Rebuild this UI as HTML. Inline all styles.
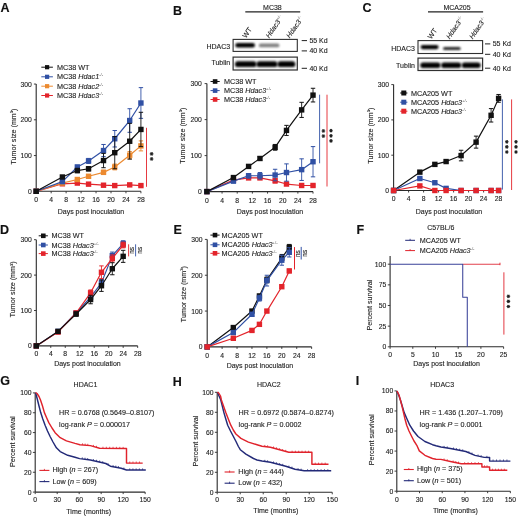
<!DOCTYPE html>
<html><head><meta charset="utf-8"><style>
html,body{margin:0;padding:0;background:#fff;}
svg{display:block;}
text{font-family:"Liberation Sans", sans-serif;stroke:#222;stroke-width:0.12px;}
svg{will-change:transform;}
</style></head><body>
<svg width="520" height="516" viewBox="0 0 520 516">
<defs><filter id="bl" x="-30%" y="-80%" width="160%" height="260%"><feGaussianBlur stdDeviation="1.15"/></filter></defs>
<rect width="520" height="516" fill="#fff"/>
<text x="0.40" y="11.50" font-size="12.5" text-anchor="start" font-weight="bold" font-style="normal" fill="#111" style="stroke:#111;stroke-width:0.15px">A</text>
<line x1="41.30" y1="67.20" x2="52.90" y2="67.20" stroke="#111111" stroke-width="1.0"/>
<rect x="45.00" y="65.10" width="4.20" height="4.20" fill="#111111"/>
<text x="56.90" y="69.70" font-size="7.25" text-anchor="start" font-weight="normal" font-style="normal" fill="#1e1e1e">MC38 WT</text>
<line x1="41.30" y1="76.80" x2="52.90" y2="76.80" stroke="#3050a4" stroke-width="1.0"/>
<rect x="45.00" y="74.70" width="4.20" height="4.20" fill="#3050a4"/>
<text x="56.90" y="79.30" font-size="7.25" text-anchor="start" font-weight="normal" font-style="normal" fill="#1e1e1e">MC38 <tspan font-style="italic">Hdac1</tspan><tspan font-size="4.2" dy="-2.9" fill="#555" style="stroke:none">-/-</tspan></text>
<line x1="41.30" y1="86.20" x2="52.90" y2="86.20" stroke="#ec8a30" stroke-width="1.0"/>
<rect x="45.00" y="84.10" width="4.20" height="4.20" fill="#ec8a30"/>
<text x="56.90" y="88.70" font-size="7.25" text-anchor="start" font-weight="normal" font-style="normal" fill="#1e1e1e">MC38 <tspan font-style="italic">Hdac2</tspan><tspan font-size="4.2" dy="-2.9" fill="#555" style="stroke:none">-/-</tspan></text>
<line x1="41.30" y1="95.50" x2="52.90" y2="95.50" stroke="#e3242b" stroke-width="1.0"/>
<rect x="45.00" y="93.40" width="4.20" height="4.20" fill="#e3242b"/>
<text x="56.90" y="98.00" font-size="7.25" text-anchor="start" font-weight="normal" font-style="normal" fill="#1e1e1e">MC38 <tspan font-style="italic">Hdac3</tspan><tspan font-size="4.2" dy="-2.9" fill="#555" style="stroke:none">-/-</tspan></text>
<line x1="36.20" y1="191.30" x2="36.20" y2="84.05" stroke="#2a2a2a" stroke-width="1.1"/>
<line x1="33.90" y1="191.30" x2="36.20" y2="191.30" stroke="#2a2a2a" stroke-width="0.9"/>
<text x="31.80" y="193.75" font-size="6.8" text-anchor="end" font-weight="normal" font-style="normal" fill="#1e1e1e">0</text>
<line x1="33.90" y1="155.55" x2="36.20" y2="155.55" stroke="#2a2a2a" stroke-width="0.9"/>
<text x="31.80" y="158.00" font-size="6.8" text-anchor="end" font-weight="normal" font-style="normal" fill="#1e1e1e">100</text>
<line x1="33.90" y1="119.80" x2="36.20" y2="119.80" stroke="#2a2a2a" stroke-width="0.9"/>
<text x="31.80" y="122.25" font-size="6.8" text-anchor="end" font-weight="normal" font-style="normal" fill="#1e1e1e">200</text>
<line x1="33.90" y1="84.05" x2="36.20" y2="84.05" stroke="#2a2a2a" stroke-width="0.9"/>
<text x="31.80" y="86.50" font-size="6.8" text-anchor="end" font-weight="normal" font-style="normal" fill="#1e1e1e">300</text>
<line x1="36.20" y1="191.30" x2="140.92" y2="191.30" stroke="#2a2a2a" stroke-width="1.1"/>
<line x1="36.20" y1="191.30" x2="36.20" y2="193.30" stroke="#2a2a2a" stroke-width="0.9"/>
<text x="36.20" y="202.25" font-size="6.8" text-anchor="middle" font-weight="normal" font-style="normal" fill="#1e1e1e">0</text>
<line x1="51.16" y1="191.30" x2="51.16" y2="193.30" stroke="#2a2a2a" stroke-width="0.9"/>
<text x="51.16" y="202.25" font-size="6.8" text-anchor="middle" font-weight="normal" font-style="normal" fill="#1e1e1e">4</text>
<line x1="66.12" y1="191.30" x2="66.12" y2="193.30" stroke="#2a2a2a" stroke-width="0.9"/>
<text x="66.12" y="202.25" font-size="6.8" text-anchor="middle" font-weight="normal" font-style="normal" fill="#1e1e1e">8</text>
<line x1="81.08" y1="191.30" x2="81.08" y2="193.30" stroke="#2a2a2a" stroke-width="0.9"/>
<text x="81.08" y="202.25" font-size="6.8" text-anchor="middle" font-weight="normal" font-style="normal" fill="#1e1e1e">12</text>
<line x1="96.04" y1="191.30" x2="96.04" y2="193.30" stroke="#2a2a2a" stroke-width="0.9"/>
<text x="96.04" y="202.25" font-size="6.8" text-anchor="middle" font-weight="normal" font-style="normal" fill="#1e1e1e">16</text>
<line x1="111.00" y1="191.30" x2="111.00" y2="193.30" stroke="#2a2a2a" stroke-width="0.9"/>
<text x="111.00" y="202.25" font-size="6.8" text-anchor="middle" font-weight="normal" font-style="normal" fill="#1e1e1e">20</text>
<line x1="125.96" y1="191.30" x2="125.96" y2="193.30" stroke="#2a2a2a" stroke-width="0.9"/>
<text x="125.96" y="202.25" font-size="6.8" text-anchor="middle" font-weight="normal" font-style="normal" fill="#1e1e1e">24</text>
<line x1="140.92" y1="191.30" x2="140.92" y2="193.30" stroke="#2a2a2a" stroke-width="0.9"/>
<text x="140.92" y="202.25" font-size="6.8" text-anchor="middle" font-weight="normal" font-style="normal" fill="#1e1e1e">28</text>
<text x="13.50" y="136.50" font-size="7.15" text-anchor="middle" fill="#1e1e1e" transform="rotate(-90 13.50 136.50)" dominant-baseline="central">Tumor size (mm<tspan font-size="4.2" dy="-2.5">3</tspan><tspan dy="2.5">)</tspan></text>
<text x="91.00" y="214.30" font-size="7" text-anchor="middle" font-weight="normal" font-style="normal" fill="#1e1e1e">Days post inoculation</text>
<polyline points="36.20,191.30 62.38,183.79 77.34,183.08 88.56,184.15 103.52,185.22 114.74,185.58 129.70,184.87 140.92,185.58" fill="none" stroke="#e3242b" stroke-width="1.2" stroke-linejoin="round"/>
<line x1="62.38" y1="183.08" x2="62.38" y2="184.51" stroke="#e3242b" stroke-width="0.9"/>
<line x1="60.18" y1="183.08" x2="64.58" y2="183.08" stroke="#e3242b" stroke-width="1.0"/>
<line x1="60.18" y1="184.51" x2="64.58" y2="184.51" stroke="#e3242b" stroke-width="1.0"/>
<line x1="77.34" y1="182.01" x2="77.34" y2="184.15" stroke="#e3242b" stroke-width="0.9"/>
<line x1="75.14" y1="182.01" x2="79.54" y2="182.01" stroke="#e3242b" stroke-width="1.0"/>
<line x1="75.14" y1="184.15" x2="79.54" y2="184.15" stroke="#e3242b" stroke-width="1.0"/>
<line x1="88.56" y1="183.08" x2="88.56" y2="185.22" stroke="#e3242b" stroke-width="0.9"/>
<line x1="86.36" y1="183.08" x2="90.76" y2="183.08" stroke="#e3242b" stroke-width="1.0"/>
<line x1="86.36" y1="185.22" x2="90.76" y2="185.22" stroke="#e3242b" stroke-width="1.0"/>
<line x1="103.52" y1="184.51" x2="103.52" y2="185.94" stroke="#e3242b" stroke-width="0.9"/>
<line x1="101.32" y1="184.51" x2="105.72" y2="184.51" stroke="#e3242b" stroke-width="1.0"/>
<line x1="101.32" y1="185.94" x2="105.72" y2="185.94" stroke="#e3242b" stroke-width="1.0"/>
<line x1="114.74" y1="184.87" x2="114.74" y2="186.30" stroke="#e3242b" stroke-width="0.9"/>
<line x1="112.54" y1="184.87" x2="116.94" y2="184.87" stroke="#e3242b" stroke-width="1.0"/>
<line x1="112.54" y1="186.30" x2="116.94" y2="186.30" stroke="#e3242b" stroke-width="1.0"/>
<line x1="129.70" y1="184.15" x2="129.70" y2="185.58" stroke="#e3242b" stroke-width="0.9"/>
<line x1="127.50" y1="184.15" x2="131.90" y2="184.15" stroke="#e3242b" stroke-width="1.0"/>
<line x1="127.50" y1="185.58" x2="131.90" y2="185.58" stroke="#e3242b" stroke-width="1.0"/>
<line x1="140.92" y1="184.87" x2="140.92" y2="186.30" stroke="#e3242b" stroke-width="0.9"/>
<line x1="138.72" y1="184.87" x2="143.12" y2="184.87" stroke="#e3242b" stroke-width="1.0"/>
<line x1="138.72" y1="186.30" x2="143.12" y2="186.30" stroke="#e3242b" stroke-width="1.0"/>
<rect x="33.50" y="188.60" width="5.40" height="5.40" fill="#e3242b"/>
<rect x="59.68" y="181.09" width="5.40" height="5.40" fill="#e3242b"/>
<rect x="74.64" y="180.38" width="5.40" height="5.40" fill="#e3242b"/>
<rect x="85.86" y="181.45" width="5.40" height="5.40" fill="#e3242b"/>
<rect x="100.82" y="182.52" width="5.40" height="5.40" fill="#e3242b"/>
<rect x="112.04" y="182.88" width="5.40" height="5.40" fill="#e3242b"/>
<rect x="127.00" y="182.17" width="5.40" height="5.40" fill="#e3242b"/>
<rect x="138.22" y="182.88" width="5.40" height="5.40" fill="#e3242b"/>
<polyline points="36.20,191.30 62.38,183.08 77.34,179.50 88.56,176.29 103.52,172.35 114.74,166.99 129.70,155.19 140.92,145.90" fill="none" stroke="#ec8a30" stroke-width="1.2" stroke-linejoin="round"/>
<line x1="62.38" y1="182.01" x2="62.38" y2="184.15" stroke="#ec8a30" stroke-width="0.9"/>
<line x1="60.18" y1="182.01" x2="64.58" y2="182.01" stroke="#ec8a30" stroke-width="1.0"/>
<line x1="60.18" y1="184.15" x2="64.58" y2="184.15" stroke="#ec8a30" stroke-width="1.0"/>
<line x1="77.34" y1="178.07" x2="77.34" y2="180.93" stroke="#ec8a30" stroke-width="0.9"/>
<line x1="75.14" y1="178.07" x2="79.54" y2="178.07" stroke="#ec8a30" stroke-width="1.0"/>
<line x1="75.14" y1="180.93" x2="79.54" y2="180.93" stroke="#ec8a30" stroke-width="1.0"/>
<line x1="88.56" y1="174.86" x2="88.56" y2="177.72" stroke="#ec8a30" stroke-width="0.9"/>
<line x1="86.36" y1="174.86" x2="90.76" y2="174.86" stroke="#ec8a30" stroke-width="1.0"/>
<line x1="86.36" y1="177.72" x2="90.76" y2="177.72" stroke="#ec8a30" stroke-width="1.0"/>
<line x1="103.52" y1="170.21" x2="103.52" y2="174.50" stroke="#ec8a30" stroke-width="0.9"/>
<line x1="101.32" y1="170.21" x2="105.72" y2="170.21" stroke="#ec8a30" stroke-width="1.0"/>
<line x1="101.32" y1="174.50" x2="105.72" y2="174.50" stroke="#ec8a30" stroke-width="1.0"/>
<line x1="114.74" y1="164.13" x2="114.74" y2="169.85" stroke="#ec8a30" stroke-width="0.9"/>
<line x1="112.54" y1="164.13" x2="116.94" y2="164.13" stroke="#ec8a30" stroke-width="1.0"/>
<line x1="112.54" y1="169.85" x2="116.94" y2="169.85" stroke="#ec8a30" stroke-width="1.0"/>
<line x1="129.70" y1="151.62" x2="129.70" y2="158.77" stroke="#ec8a30" stroke-width="0.9"/>
<line x1="127.50" y1="151.62" x2="131.90" y2="151.62" stroke="#ec8a30" stroke-width="1.0"/>
<line x1="127.50" y1="158.77" x2="131.90" y2="158.77" stroke="#ec8a30" stroke-width="1.0"/>
<line x1="140.92" y1="140.89" x2="140.92" y2="150.90" stroke="#ec8a30" stroke-width="0.9"/>
<line x1="138.72" y1="140.89" x2="143.12" y2="140.89" stroke="#ec8a30" stroke-width="1.0"/>
<line x1="138.72" y1="150.90" x2="143.12" y2="150.90" stroke="#ec8a30" stroke-width="1.0"/>
<rect x="33.50" y="188.60" width="5.40" height="5.40" fill="#ec8a30"/>
<rect x="59.68" y="180.38" width="5.40" height="5.40" fill="#ec8a30"/>
<rect x="74.64" y="176.80" width="5.40" height="5.40" fill="#ec8a30"/>
<rect x="85.86" y="173.59" width="5.40" height="5.40" fill="#ec8a30"/>
<rect x="100.82" y="169.65" width="5.40" height="5.40" fill="#ec8a30"/>
<rect x="112.04" y="164.29" width="5.40" height="5.40" fill="#ec8a30"/>
<rect x="127.00" y="152.49" width="5.40" height="5.40" fill="#ec8a30"/>
<rect x="138.22" y="143.20" width="5.40" height="5.40" fill="#ec8a30"/>
<polyline points="36.20,191.30 62.38,181.65 77.34,166.99 88.56,160.91 103.52,150.55 114.74,138.75 129.70,120.52 140.92,103.00" fill="none" stroke="#3050a4" stroke-width="1.2" stroke-linejoin="round"/>
<line x1="62.38" y1="180.58" x2="62.38" y2="182.72" stroke="#3050a4" stroke-width="0.9"/>
<line x1="60.18" y1="180.58" x2="64.58" y2="180.58" stroke="#3050a4" stroke-width="1.0"/>
<line x1="60.18" y1="182.72" x2="64.58" y2="182.72" stroke="#3050a4" stroke-width="1.0"/>
<line x1="77.34" y1="165.20" x2="77.34" y2="168.78" stroke="#3050a4" stroke-width="0.9"/>
<line x1="75.14" y1="165.20" x2="79.54" y2="165.20" stroke="#3050a4" stroke-width="1.0"/>
<line x1="75.14" y1="168.78" x2="79.54" y2="168.78" stroke="#3050a4" stroke-width="1.0"/>
<line x1="88.56" y1="158.41" x2="88.56" y2="163.42" stroke="#3050a4" stroke-width="0.9"/>
<line x1="86.36" y1="158.41" x2="90.76" y2="158.41" stroke="#3050a4" stroke-width="1.0"/>
<line x1="86.36" y1="163.42" x2="90.76" y2="163.42" stroke="#3050a4" stroke-width="1.0"/>
<line x1="103.52" y1="144.47" x2="103.52" y2="156.62" stroke="#3050a4" stroke-width="0.9"/>
<line x1="101.32" y1="144.47" x2="105.72" y2="144.47" stroke="#3050a4" stroke-width="1.0"/>
<line x1="101.32" y1="156.62" x2="105.72" y2="156.62" stroke="#3050a4" stroke-width="1.0"/>
<line x1="114.74" y1="130.53" x2="114.74" y2="146.97" stroke="#3050a4" stroke-width="0.9"/>
<line x1="112.54" y1="130.53" x2="116.94" y2="130.53" stroke="#3050a4" stroke-width="1.0"/>
<line x1="112.54" y1="146.97" x2="116.94" y2="146.97" stroke="#3050a4" stroke-width="1.0"/>
<line x1="129.70" y1="108.72" x2="129.70" y2="132.31" stroke="#3050a4" stroke-width="0.9"/>
<line x1="127.50" y1="108.72" x2="131.90" y2="108.72" stroke="#3050a4" stroke-width="1.0"/>
<line x1="127.50" y1="132.31" x2="131.90" y2="132.31" stroke="#3050a4" stroke-width="1.0"/>
<line x1="140.92" y1="87.63" x2="140.92" y2="118.37" stroke="#3050a4" stroke-width="0.9"/>
<line x1="138.72" y1="87.63" x2="143.12" y2="87.63" stroke="#3050a4" stroke-width="1.0"/>
<line x1="138.72" y1="118.37" x2="143.12" y2="118.37" stroke="#3050a4" stroke-width="1.0"/>
<rect x="33.50" y="188.60" width="5.40" height="5.40" fill="#3050a4"/>
<rect x="59.68" y="178.95" width="5.40" height="5.40" fill="#3050a4"/>
<rect x="74.64" y="164.29" width="5.40" height="5.40" fill="#3050a4"/>
<rect x="85.86" y="158.21" width="5.40" height="5.40" fill="#3050a4"/>
<rect x="100.82" y="147.85" width="5.40" height="5.40" fill="#3050a4"/>
<rect x="112.04" y="136.05" width="5.40" height="5.40" fill="#3050a4"/>
<rect x="127.00" y="117.82" width="5.40" height="5.40" fill="#3050a4"/>
<rect x="138.22" y="100.30" width="5.40" height="5.40" fill="#3050a4"/>
<polyline points="36.20,191.30 62.38,177.00 77.34,170.56 88.56,168.78 103.52,160.56 114.74,152.69 129.70,141.25 140.92,129.45" fill="none" stroke="#111111" stroke-width="1.2" stroke-linejoin="round"/>
<line x1="62.38" y1="175.57" x2="62.38" y2="178.43" stroke="#111111" stroke-width="0.9"/>
<line x1="60.18" y1="175.57" x2="64.58" y2="175.57" stroke="#111111" stroke-width="1.0"/>
<line x1="60.18" y1="178.43" x2="64.58" y2="178.43" stroke="#111111" stroke-width="1.0"/>
<line x1="77.34" y1="168.42" x2="77.34" y2="172.71" stroke="#111111" stroke-width="0.9"/>
<line x1="75.14" y1="168.42" x2="79.54" y2="168.42" stroke="#111111" stroke-width="1.0"/>
<line x1="75.14" y1="172.71" x2="79.54" y2="172.71" stroke="#111111" stroke-width="1.0"/>
<line x1="88.56" y1="166.63" x2="88.56" y2="170.92" stroke="#111111" stroke-width="0.9"/>
<line x1="86.36" y1="166.63" x2="90.76" y2="166.63" stroke="#111111" stroke-width="1.0"/>
<line x1="86.36" y1="170.92" x2="90.76" y2="170.92" stroke="#111111" stroke-width="1.0"/>
<line x1="103.52" y1="153.41" x2="103.52" y2="167.71" stroke="#111111" stroke-width="0.9"/>
<line x1="101.32" y1="153.41" x2="105.72" y2="153.41" stroke="#111111" stroke-width="1.0"/>
<line x1="101.32" y1="167.71" x2="105.72" y2="167.71" stroke="#111111" stroke-width="1.0"/>
<line x1="114.74" y1="136.60" x2="114.74" y2="168.78" stroke="#111111" stroke-width="0.9"/>
<line x1="112.54" y1="136.60" x2="116.94" y2="136.60" stroke="#111111" stroke-width="1.0"/>
<line x1="112.54" y1="168.78" x2="116.94" y2="168.78" stroke="#111111" stroke-width="1.0"/>
<line x1="129.70" y1="123.38" x2="129.70" y2="159.12" stroke="#111111" stroke-width="0.9"/>
<line x1="127.50" y1="123.38" x2="131.90" y2="123.38" stroke="#111111" stroke-width="1.0"/>
<line x1="127.50" y1="159.12" x2="131.90" y2="159.12" stroke="#111111" stroke-width="1.0"/>
<line x1="140.92" y1="112.29" x2="140.92" y2="146.61" stroke="#111111" stroke-width="0.9"/>
<line x1="138.72" y1="112.29" x2="143.12" y2="112.29" stroke="#111111" stroke-width="1.0"/>
<line x1="138.72" y1="146.61" x2="143.12" y2="146.61" stroke="#111111" stroke-width="1.0"/>
<rect x="33.50" y="188.60" width="5.40" height="5.40" fill="#111111"/>
<rect x="59.68" y="174.30" width="5.40" height="5.40" fill="#111111"/>
<rect x="74.64" y="167.87" width="5.40" height="5.40" fill="#111111"/>
<rect x="85.86" y="166.08" width="5.40" height="5.40" fill="#111111"/>
<rect x="100.82" y="157.86" width="5.40" height="5.40" fill="#111111"/>
<rect x="112.04" y="149.99" width="5.40" height="5.40" fill="#111111"/>
<rect x="127.00" y="138.55" width="5.40" height="5.40" fill="#111111"/>
<rect x="138.22" y="126.75" width="5.40" height="5.40" fill="#111111"/>
<line x1="146.50" y1="127.80" x2="146.50" y2="186.80" stroke="#e3242b" stroke-width="0.9"/>
<path d="M149.80,153.85L153.40,153.85M150.70,152.29L152.50,155.41M152.50,152.29L150.70,155.41" stroke="#222" stroke-width="1.1" fill="none"/>
<path d="M149.80,158.95L153.40,158.95M150.70,157.39L152.50,160.51M152.50,157.39L150.70,160.51" stroke="#222" stroke-width="1.1" fill="none"/>
<text x="172.90" y="15.20" font-size="12.5" text-anchor="start" font-weight="bold" font-style="normal" fill="#111" style="stroke:#111;stroke-width:0.15px">B</text>
<text x="272.40" y="9.80" font-size="7" text-anchor="middle" font-weight="normal" font-style="normal" fill="#1e1e1e">MC38</text>
<line x1="245.30" y1="11.95" x2="300.20" y2="11.95" stroke="#222" stroke-width="1.2"/>
<text x="245.90" y="38.5" font-size="7" fill="#1e1e1e" transform="rotate(-55 245.90 38.5)">WT</text>
<text x="269.20" y="38.5" font-size="7" fill="#1e1e1e" transform="rotate(-55 269.20 38.5)"><tspan font-style="italic">Hdac3</tspan><tspan font-size="4.2" dy="-2.9" fill="#555" style="stroke:none">+/-</tspan></text>
<text x="289.80" y="38.5" font-size="7" fill="#1e1e1e" transform="rotate(-55 289.80 38.5)"><tspan font-style="italic">Hdac3</tspan><tspan font-size="4.2" dy="-2.9" fill="#555" style="stroke:none">-/-</tspan></text>
<rect x="233.10" y="39.40" width="64.20" height="12.00" fill="#ffffff" stroke="#303030" stroke-width="1.1"/>
<rect x="233.10" y="57.10" width="64.20" height="12.90" fill="#fafafa" stroke="#303030" stroke-width="1.2"/>
<rect x="235.30" y="42.90" width="19.70" height="4.60" rx="2.30" fill="#000" opacity="1.0" filter="url(#bl)"/>
<rect x="258.80" y="43.50" width="20.60" height="3.80" rx="1.90" fill="#000" opacity="0.5" filter="url(#bl)"/>
<rect x="235.00" y="61.30" width="21.50" height="5.80" rx="2.90" fill="#000" opacity="1.0" filter="url(#bl)"/>
<rect x="256.50" y="61.30" width="21.00" height="5.80" rx="2.90" fill="#000" opacity="1.0" filter="url(#bl)"/>
<rect x="277.50" y="61.30" width="17.80" height="5.80" rx="2.90" fill="#000" opacity="1.0" filter="url(#bl)"/>
<text x="230.20" y="48.90" font-size="7" text-anchor="end" font-weight="normal" font-style="normal" fill="#1e1e1e">HDAC3</text>
<text x="230.20" y="64.80" font-size="7" text-anchor="end" font-weight="normal" font-style="normal" fill="#1e1e1e">Tublin</text>
<line x1="301.70" y1="40.60" x2="307.00" y2="40.60" stroke="#222" stroke-width="1.0"/>
<text x="309.40" y="43.10" font-size="7" text-anchor="start" font-weight="normal" font-style="normal" fill="#1e1e1e">55 Kd</text>
<line x1="301.70" y1="50.90" x2="307.00" y2="50.90" stroke="#222" stroke-width="1.0"/>
<text x="309.40" y="53.40" font-size="7" text-anchor="start" font-weight="normal" font-style="normal" fill="#1e1e1e">40 Kd</text>
<line x1="301.70" y1="68.30" x2="307.00" y2="68.30" stroke="#222" stroke-width="1.0"/>
<text x="309.40" y="70.80" font-size="7" text-anchor="start" font-weight="normal" font-style="normal" fill="#1e1e1e">40 Kd</text>
<line x1="210.50" y1="81.50" x2="219.70" y2="81.50" stroke="#111111" stroke-width="1.0"/>
<rect x="212.80" y="79.20" width="4.60" height="4.60" fill="#111111"/>
<text x="223.90" y="84.00" font-size="7.25" text-anchor="start" font-weight="normal" font-style="normal" fill="#1e1e1e">MC38 WT</text>
<line x1="210.50" y1="90.60" x2="219.70" y2="90.60" stroke="#3050a4" stroke-width="1.0"/>
<rect x="212.80" y="88.30" width="4.60" height="4.60" fill="#3050a4"/>
<text x="223.90" y="93.10" font-size="7.25" text-anchor="start" font-weight="normal" font-style="normal" fill="#1e1e1e">MC38 <tspan font-style="italic">Hdac3</tspan><tspan font-size="4.2" dy="-2.9" fill="#555" style="stroke:none">+/-</tspan></text>
<line x1="210.50" y1="99.50" x2="219.70" y2="99.50" stroke="#e3242b" stroke-width="1.0"/>
<rect x="212.80" y="97.20" width="4.60" height="4.60" fill="#e3242b"/>
<text x="223.90" y="102.00" font-size="7.25" text-anchor="start" font-weight="normal" font-style="normal" fill="#1e1e1e">MC38 <tspan font-style="italic">Hdac3</tspan><tspan font-size="4.2" dy="-2.9" fill="#555" style="stroke:none">-/-</tspan></text>
<line x1="206.90" y1="191.60" x2="206.90" y2="83.60" stroke="#2a2a2a" stroke-width="1.1"/>
<line x1="204.60" y1="191.60" x2="206.90" y2="191.60" stroke="#2a2a2a" stroke-width="0.9"/>
<text x="201.80" y="194.05" font-size="6.8" text-anchor="end" font-weight="normal" font-style="normal" fill="#1e1e1e">0</text>
<line x1="204.60" y1="155.60" x2="206.90" y2="155.60" stroke="#2a2a2a" stroke-width="0.9"/>
<text x="201.80" y="158.05" font-size="6.8" text-anchor="end" font-weight="normal" font-style="normal" fill="#1e1e1e">100</text>
<line x1="204.60" y1="119.60" x2="206.90" y2="119.60" stroke="#2a2a2a" stroke-width="0.9"/>
<text x="201.80" y="122.05" font-size="6.8" text-anchor="end" font-weight="normal" font-style="normal" fill="#1e1e1e">200</text>
<line x1="204.60" y1="83.60" x2="206.90" y2="83.60" stroke="#2a2a2a" stroke-width="0.9"/>
<text x="201.80" y="86.05" font-size="6.8" text-anchor="end" font-weight="normal" font-style="normal" fill="#1e1e1e">300</text>
<line x1="206.90" y1="191.60" x2="313.02" y2="191.60" stroke="#2a2a2a" stroke-width="1.1"/>
<line x1="206.90" y1="191.60" x2="206.90" y2="193.60" stroke="#2a2a2a" stroke-width="0.9"/>
<text x="206.90" y="202.65" font-size="6.8" text-anchor="middle" font-weight="normal" font-style="normal" fill="#1e1e1e">0</text>
<line x1="222.06" y1="191.60" x2="222.06" y2="193.60" stroke="#2a2a2a" stroke-width="0.9"/>
<text x="222.06" y="202.65" font-size="6.8" text-anchor="middle" font-weight="normal" font-style="normal" fill="#1e1e1e">4</text>
<line x1="237.22" y1="191.60" x2="237.22" y2="193.60" stroke="#2a2a2a" stroke-width="0.9"/>
<text x="237.22" y="202.65" font-size="6.8" text-anchor="middle" font-weight="normal" font-style="normal" fill="#1e1e1e">8</text>
<line x1="252.38" y1="191.60" x2="252.38" y2="193.60" stroke="#2a2a2a" stroke-width="0.9"/>
<text x="252.38" y="202.65" font-size="6.8" text-anchor="middle" font-weight="normal" font-style="normal" fill="#1e1e1e">12</text>
<line x1="267.54" y1="191.60" x2="267.54" y2="193.60" stroke="#2a2a2a" stroke-width="0.9"/>
<text x="267.54" y="202.65" font-size="6.8" text-anchor="middle" font-weight="normal" font-style="normal" fill="#1e1e1e">16</text>
<line x1="282.70" y1="191.60" x2="282.70" y2="193.60" stroke="#2a2a2a" stroke-width="0.9"/>
<text x="282.70" y="202.65" font-size="6.8" text-anchor="middle" font-weight="normal" font-style="normal" fill="#1e1e1e">20</text>
<line x1="297.86" y1="191.60" x2="297.86" y2="193.60" stroke="#2a2a2a" stroke-width="0.9"/>
<text x="297.86" y="202.65" font-size="6.8" text-anchor="middle" font-weight="normal" font-style="normal" fill="#1e1e1e">24</text>
<line x1="313.02" y1="191.60" x2="313.02" y2="193.60" stroke="#2a2a2a" stroke-width="0.9"/>
<text x="313.02" y="202.65" font-size="6.8" text-anchor="middle" font-weight="normal" font-style="normal" fill="#1e1e1e">28</text>
<text x="183.00" y="135.60" font-size="7.15" text-anchor="middle" fill="#1e1e1e" transform="rotate(-90 183.00 135.60)" dominant-baseline="central">Tumor size (mm<tspan font-size="4.2" dy="-2.5">3</tspan><tspan dy="2.5">)</tspan></text>
<text x="270.00" y="214.30" font-size="7" text-anchor="middle" font-weight="normal" font-style="normal" fill="#1e1e1e">Days post inoculation</text>
<polyline points="206.90,191.60 233.43,180.08 248.59,177.92 259.96,177.92 275.12,180.80 286.49,184.04 301.65,185.48 313.02,185.48" fill="none" stroke="#e3242b" stroke-width="1.2" stroke-linejoin="round"/>
<line x1="233.43" y1="179.00" x2="233.43" y2="181.16" stroke="#e3242b" stroke-width="0.9"/>
<line x1="231.23" y1="179.00" x2="235.63" y2="179.00" stroke="#e3242b" stroke-width="1.0"/>
<line x1="231.23" y1="181.16" x2="235.63" y2="181.16" stroke="#e3242b" stroke-width="1.0"/>
<line x1="248.59" y1="176.48" x2="248.59" y2="179.36" stroke="#e3242b" stroke-width="0.9"/>
<line x1="246.39" y1="176.48" x2="250.79" y2="176.48" stroke="#e3242b" stroke-width="1.0"/>
<line x1="246.39" y1="179.36" x2="250.79" y2="179.36" stroke="#e3242b" stroke-width="1.0"/>
<line x1="259.96" y1="176.48" x2="259.96" y2="179.36" stroke="#e3242b" stroke-width="0.9"/>
<line x1="257.76" y1="176.48" x2="262.16" y2="176.48" stroke="#e3242b" stroke-width="1.0"/>
<line x1="257.76" y1="179.36" x2="262.16" y2="179.36" stroke="#e3242b" stroke-width="1.0"/>
<line x1="275.12" y1="178.64" x2="275.12" y2="182.96" stroke="#e3242b" stroke-width="0.9"/>
<line x1="272.92" y1="178.64" x2="277.32" y2="178.64" stroke="#e3242b" stroke-width="1.0"/>
<line x1="272.92" y1="182.96" x2="277.32" y2="182.96" stroke="#e3242b" stroke-width="1.0"/>
<line x1="286.49" y1="182.96" x2="286.49" y2="185.12" stroke="#e3242b" stroke-width="0.9"/>
<line x1="284.29" y1="182.96" x2="288.69" y2="182.96" stroke="#e3242b" stroke-width="1.0"/>
<line x1="284.29" y1="185.12" x2="288.69" y2="185.12" stroke="#e3242b" stroke-width="1.0"/>
<line x1="301.65" y1="184.76" x2="301.65" y2="186.20" stroke="#e3242b" stroke-width="0.9"/>
<line x1="299.45" y1="184.76" x2="303.85" y2="184.76" stroke="#e3242b" stroke-width="1.0"/>
<line x1="299.45" y1="186.20" x2="303.85" y2="186.20" stroke="#e3242b" stroke-width="1.0"/>
<line x1="313.02" y1="184.76" x2="313.02" y2="186.20" stroke="#e3242b" stroke-width="0.9"/>
<line x1="310.82" y1="184.76" x2="315.22" y2="184.76" stroke="#e3242b" stroke-width="1.0"/>
<line x1="310.82" y1="186.20" x2="315.22" y2="186.20" stroke="#e3242b" stroke-width="1.0"/>
<rect x="204.20" y="188.90" width="5.40" height="5.40" fill="#e3242b"/>
<rect x="230.73" y="177.38" width="5.40" height="5.40" fill="#e3242b"/>
<rect x="245.89" y="175.22" width="5.40" height="5.40" fill="#e3242b"/>
<rect x="257.26" y="175.22" width="5.40" height="5.40" fill="#e3242b"/>
<rect x="272.42" y="178.10" width="5.40" height="5.40" fill="#e3242b"/>
<rect x="283.79" y="181.34" width="5.40" height="5.40" fill="#e3242b"/>
<rect x="298.95" y="182.78" width="5.40" height="5.40" fill="#e3242b"/>
<rect x="310.32" y="182.78" width="5.40" height="5.40" fill="#e3242b"/>
<polyline points="206.90,191.60 233.43,181.16 248.59,175.76 259.96,175.76 275.12,175.04 286.49,172.52 301.65,169.64 313.02,161.72" fill="none" stroke="#3050a4" stroke-width="1.2" stroke-linejoin="round"/>
<line x1="233.43" y1="179.72" x2="233.43" y2="182.60" stroke="#3050a4" stroke-width="0.9"/>
<line x1="231.23" y1="179.72" x2="235.63" y2="179.72" stroke="#3050a4" stroke-width="1.0"/>
<line x1="231.23" y1="182.60" x2="235.63" y2="182.60" stroke="#3050a4" stroke-width="1.0"/>
<line x1="248.59" y1="173.60" x2="248.59" y2="177.92" stroke="#3050a4" stroke-width="0.9"/>
<line x1="246.39" y1="173.60" x2="250.79" y2="173.60" stroke="#3050a4" stroke-width="1.0"/>
<line x1="246.39" y1="177.92" x2="250.79" y2="177.92" stroke="#3050a4" stroke-width="1.0"/>
<line x1="259.96" y1="172.52" x2="259.96" y2="179.00" stroke="#3050a4" stroke-width="0.9"/>
<line x1="257.76" y1="172.52" x2="262.16" y2="172.52" stroke="#3050a4" stroke-width="1.0"/>
<line x1="257.76" y1="179.00" x2="262.16" y2="179.00" stroke="#3050a4" stroke-width="1.0"/>
<line x1="275.12" y1="169.28" x2="275.12" y2="180.80" stroke="#3050a4" stroke-width="0.9"/>
<line x1="272.92" y1="169.28" x2="277.32" y2="169.28" stroke="#3050a4" stroke-width="1.0"/>
<line x1="272.92" y1="180.80" x2="277.32" y2="180.80" stroke="#3050a4" stroke-width="1.0"/>
<line x1="286.49" y1="163.88" x2="286.49" y2="181.16" stroke="#3050a4" stroke-width="0.9"/>
<line x1="284.29" y1="163.88" x2="288.69" y2="163.88" stroke="#3050a4" stroke-width="1.0"/>
<line x1="284.29" y1="181.16" x2="288.69" y2="181.16" stroke="#3050a4" stroke-width="1.0"/>
<line x1="301.65" y1="158.84" x2="301.65" y2="180.44" stroke="#3050a4" stroke-width="0.9"/>
<line x1="299.45" y1="158.84" x2="303.85" y2="158.84" stroke="#3050a4" stroke-width="1.0"/>
<line x1="299.45" y1="180.44" x2="303.85" y2="180.44" stroke="#3050a4" stroke-width="1.0"/>
<line x1="313.02" y1="146.60" x2="313.02" y2="176.84" stroke="#3050a4" stroke-width="0.9"/>
<line x1="310.82" y1="146.60" x2="315.22" y2="146.60" stroke="#3050a4" stroke-width="1.0"/>
<line x1="310.82" y1="176.84" x2="315.22" y2="176.84" stroke="#3050a4" stroke-width="1.0"/>
<rect x="204.20" y="188.90" width="5.40" height="5.40" fill="#3050a4"/>
<rect x="230.73" y="178.46" width="5.40" height="5.40" fill="#3050a4"/>
<rect x="245.89" y="173.06" width="5.40" height="5.40" fill="#3050a4"/>
<rect x="257.26" y="173.06" width="5.40" height="5.40" fill="#3050a4"/>
<rect x="272.42" y="172.34" width="5.40" height="5.40" fill="#3050a4"/>
<rect x="283.79" y="169.82" width="5.40" height="5.40" fill="#3050a4"/>
<rect x="298.95" y="166.94" width="5.40" height="5.40" fill="#3050a4"/>
<rect x="310.32" y="159.02" width="5.40" height="5.40" fill="#3050a4"/>
<polyline points="206.90,191.60 233.43,177.56 248.59,166.40 259.96,158.48 275.12,147.32 286.49,130.40 301.65,109.88 313.02,95.12" fill="none" stroke="#111111" stroke-width="1.2" stroke-linejoin="round"/>
<line x1="233.43" y1="176.48" x2="233.43" y2="178.64" stroke="#111111" stroke-width="0.9"/>
<line x1="231.23" y1="176.48" x2="235.63" y2="176.48" stroke="#111111" stroke-width="1.0"/>
<line x1="231.23" y1="178.64" x2="235.63" y2="178.64" stroke="#111111" stroke-width="1.0"/>
<line x1="248.59" y1="164.60" x2="248.59" y2="168.20" stroke="#111111" stroke-width="0.9"/>
<line x1="246.39" y1="164.60" x2="250.79" y2="164.60" stroke="#111111" stroke-width="1.0"/>
<line x1="246.39" y1="168.20" x2="250.79" y2="168.20" stroke="#111111" stroke-width="1.0"/>
<line x1="259.96" y1="156.68" x2="259.96" y2="160.28" stroke="#111111" stroke-width="0.9"/>
<line x1="257.76" y1="156.68" x2="262.16" y2="156.68" stroke="#111111" stroke-width="1.0"/>
<line x1="257.76" y1="160.28" x2="262.16" y2="160.28" stroke="#111111" stroke-width="1.0"/>
<line x1="275.12" y1="144.44" x2="275.12" y2="150.20" stroke="#111111" stroke-width="0.9"/>
<line x1="272.92" y1="144.44" x2="277.32" y2="144.44" stroke="#111111" stroke-width="1.0"/>
<line x1="272.92" y1="150.20" x2="277.32" y2="150.20" stroke="#111111" stroke-width="1.0"/>
<line x1="286.49" y1="125.36" x2="286.49" y2="135.44" stroke="#111111" stroke-width="0.9"/>
<line x1="284.29" y1="125.36" x2="288.69" y2="125.36" stroke="#111111" stroke-width="1.0"/>
<line x1="284.29" y1="135.44" x2="288.69" y2="135.44" stroke="#111111" stroke-width="1.0"/>
<line x1="301.65" y1="102.32" x2="301.65" y2="117.44" stroke="#111111" stroke-width="0.9"/>
<line x1="299.45" y1="102.32" x2="303.85" y2="102.32" stroke="#111111" stroke-width="1.0"/>
<line x1="299.45" y1="117.44" x2="303.85" y2="117.44" stroke="#111111" stroke-width="1.0"/>
<line x1="313.02" y1="88.28" x2="313.02" y2="101.96" stroke="#111111" stroke-width="0.9"/>
<line x1="310.82" y1="88.28" x2="315.22" y2="88.28" stroke="#111111" stroke-width="1.0"/>
<line x1="310.82" y1="101.96" x2="315.22" y2="101.96" stroke="#111111" stroke-width="1.0"/>
<rect x="204.20" y="188.90" width="5.40" height="5.40" fill="#111111"/>
<rect x="230.73" y="174.86" width="5.40" height="5.40" fill="#111111"/>
<rect x="245.89" y="163.70" width="5.40" height="5.40" fill="#111111"/>
<rect x="257.26" y="155.78" width="5.40" height="5.40" fill="#111111"/>
<rect x="272.42" y="144.62" width="5.40" height="5.40" fill="#111111"/>
<rect x="283.79" y="127.70" width="5.40" height="5.40" fill="#111111"/>
<rect x="298.95" y="107.18" width="5.40" height="5.40" fill="#111111"/>
<rect x="310.32" y="92.42" width="5.40" height="5.40" fill="#111111"/>
<line x1="319.60" y1="94.70" x2="319.60" y2="163.30" stroke="#3050a4" stroke-width="0.9"/>
<line x1="327.00" y1="94.70" x2="327.00" y2="186.50" stroke="#e3242b" stroke-width="0.9"/>
<path d="M321.60,130.95L325.20,130.95M322.50,129.39L324.30,132.51M324.30,129.39L322.50,132.51" stroke="#222" stroke-width="1.1" fill="none"/>
<path d="M321.60,136.05L325.20,136.05M322.50,134.49L324.30,137.61M324.30,134.49L322.50,137.61" stroke="#222" stroke-width="1.1" fill="none"/>
<path d="M329.20,130.70L332.80,130.70M330.10,129.14L331.90,132.26M331.90,129.14L330.10,132.26" stroke="#222" stroke-width="1.1" fill="none"/>
<path d="M329.20,135.80L332.80,135.80M330.10,134.24L331.90,137.36M331.90,134.24L330.10,137.36" stroke="#222" stroke-width="1.1" fill="none"/>
<path d="M329.20,140.90L332.80,140.90M330.10,139.34L331.90,142.46M331.90,139.34L330.10,142.46" stroke="#222" stroke-width="1.1" fill="none"/>
<text x="362.40" y="11.80" font-size="12.5" text-anchor="start" font-weight="bold" font-style="normal" fill="#111" style="stroke:#111;stroke-width:0.15px">C</text>
<text x="457.00" y="9.80" font-size="7" text-anchor="middle" font-weight="normal" font-style="normal" fill="#1e1e1e">MCA205</text>
<line x1="428.00" y1="11.95" x2="483.10" y2="11.95" stroke="#222" stroke-width="1.2"/>
<text x="431.20" y="39.5" font-size="7" fill="#1e1e1e" transform="rotate(-55 431.20 39.5)">WT</text>
<text x="449.70" y="39.5" font-size="7" fill="#1e1e1e" transform="rotate(-55 449.70 39.5)"><tspan font-style="italic">Hdac3</tspan><tspan font-size="4.2" dy="-2.9" fill="#555" style="stroke:none">+/-</tspan></text>
<text x="472.70" y="39.5" font-size="7" fill="#1e1e1e" transform="rotate(-55 472.70 39.5)"><tspan font-style="italic">Hdac3</tspan><tspan font-size="4.2" dy="-2.9" fill="#555" style="stroke:none">-/-</tspan></text>
<rect x="418.00" y="40.60" width="64.60" height="12.90" fill="#ffffff" stroke="#303030" stroke-width="1.1"/>
<rect x="418.00" y="58.10" width="64.60" height="12.40" fill="#fafafa" stroke="#303030" stroke-width="1.2"/>
<rect x="420.60" y="45.00" width="18.00" height="4.20" rx="2.10" fill="#000" opacity="1.0" filter="url(#bl)"/>
<rect x="443.00" y="46.90" width="17.70" height="3.20" rx="1.60" fill="#000" opacity="0.85" filter="url(#bl)"/>
<rect x="420.30" y="62.40" width="20.20" height="5.60" rx="2.80" fill="#000" opacity="1.0" filter="url(#bl)"/>
<rect x="441.20" y="62.40" width="20.00" height="5.60" rx="2.80" fill="#000" opacity="1.0" filter="url(#bl)"/>
<rect x="461.80" y="62.40" width="18.80" height="5.60" rx="2.80" fill="#000" opacity="1.0" filter="url(#bl)"/>
<text x="414.90" y="50.90" font-size="7" text-anchor="end" font-weight="normal" font-style="normal" fill="#1e1e1e">HDAC3</text>
<text x="414.90" y="68.40" font-size="7" text-anchor="end" font-weight="normal" font-style="normal" fill="#1e1e1e">Tublin</text>
<line x1="485.00" y1="43.90" x2="490.30" y2="43.90" stroke="#222" stroke-width="1.0"/>
<text x="492.70" y="46.40" font-size="7" text-anchor="start" font-weight="normal" font-style="normal" fill="#1e1e1e">55 Kd</text>
<line x1="485.00" y1="54.30" x2="490.30" y2="54.30" stroke="#222" stroke-width="1.0"/>
<text x="492.70" y="56.80" font-size="7" text-anchor="start" font-weight="normal" font-style="normal" fill="#1e1e1e">40 Kd</text>
<line x1="485.00" y1="68.20" x2="490.30" y2="68.20" stroke="#222" stroke-width="1.0"/>
<text x="492.70" y="70.70" font-size="7" text-anchor="start" font-weight="normal" font-style="normal" fill="#1e1e1e">40 Kd</text>
<line x1="400.20" y1="93.00" x2="407.40" y2="93.00" stroke="#111111" stroke-width="1.0"/>
<rect x="401.30" y="90.50" width="5.00" height="5.00" fill="#111111"/>
<text x="410.90" y="95.50" font-size="7.25" text-anchor="start" font-weight="normal" font-style="normal" fill="#1e1e1e">MCA205 WT</text>
<line x1="400.20" y1="102.20" x2="407.40" y2="102.20" stroke="#3050a4" stroke-width="1.0"/>
<rect x="401.30" y="99.70" width="5.00" height="5.00" fill="#3050a4"/>
<text x="410.90" y="104.70" font-size="7.25" text-anchor="start" font-weight="normal" font-style="normal" fill="#1e1e1e">MCA205 <tspan font-style="italic">Hdac3</tspan><tspan font-size="4.2" dy="-2.9" fill="#555" style="stroke:none">+/-</tspan></text>
<line x1="400.20" y1="111.20" x2="407.40" y2="111.20" stroke="#e3242b" stroke-width="1.0"/>
<rect x="401.30" y="108.70" width="5.00" height="5.00" fill="#e3242b"/>
<text x="410.90" y="113.70" font-size="7.25" text-anchor="start" font-weight="normal" font-style="normal" fill="#1e1e1e">MCA205 <tspan font-style="italic">Hdac3</tspan><tspan font-size="4.2" dy="-2.9" fill="#555" style="stroke:none">-/-</tspan></text>
<line x1="393.60" y1="190.50" x2="393.60" y2="84.60" stroke="#2a2a2a" stroke-width="1.1"/>
<line x1="391.30" y1="190.50" x2="393.60" y2="190.50" stroke="#2a2a2a" stroke-width="0.9"/>
<text x="389.00" y="192.95" font-size="6.8" text-anchor="end" font-weight="normal" font-style="normal" fill="#1e1e1e">0</text>
<line x1="391.30" y1="155.20" x2="393.60" y2="155.20" stroke="#2a2a2a" stroke-width="0.9"/>
<text x="389.00" y="157.65" font-size="6.8" text-anchor="end" font-weight="normal" font-style="normal" fill="#1e1e1e">100</text>
<line x1="391.30" y1="119.90" x2="393.60" y2="119.90" stroke="#2a2a2a" stroke-width="0.9"/>
<text x="389.00" y="122.35" font-size="6.8" text-anchor="end" font-weight="normal" font-style="normal" fill="#1e1e1e">200</text>
<line x1="391.30" y1="84.60" x2="393.60" y2="84.60" stroke="#2a2a2a" stroke-width="0.9"/>
<text x="389.00" y="87.05" font-size="6.8" text-anchor="end" font-weight="normal" font-style="normal" fill="#1e1e1e">300</text>
<line x1="393.60" y1="190.50" x2="498.60" y2="190.50" stroke="#2a2a2a" stroke-width="1.1"/>
<line x1="393.60" y1="190.50" x2="393.60" y2="192.50" stroke="#2a2a2a" stroke-width="0.9"/>
<text x="393.60" y="201.45" font-size="6.8" text-anchor="middle" font-weight="normal" font-style="normal" fill="#1e1e1e">0</text>
<line x1="408.60" y1="190.50" x2="408.60" y2="192.50" stroke="#2a2a2a" stroke-width="0.9"/>
<text x="408.60" y="201.45" font-size="6.8" text-anchor="middle" font-weight="normal" font-style="normal" fill="#1e1e1e">4</text>
<line x1="423.60" y1="190.50" x2="423.60" y2="192.50" stroke="#2a2a2a" stroke-width="0.9"/>
<text x="423.60" y="201.45" font-size="6.8" text-anchor="middle" font-weight="normal" font-style="normal" fill="#1e1e1e">8</text>
<line x1="438.60" y1="190.50" x2="438.60" y2="192.50" stroke="#2a2a2a" stroke-width="0.9"/>
<text x="438.60" y="201.45" font-size="6.8" text-anchor="middle" font-weight="normal" font-style="normal" fill="#1e1e1e">12</text>
<line x1="453.60" y1="190.50" x2="453.60" y2="192.50" stroke="#2a2a2a" stroke-width="0.9"/>
<text x="453.60" y="201.45" font-size="6.8" text-anchor="middle" font-weight="normal" font-style="normal" fill="#1e1e1e">16</text>
<line x1="468.60" y1="190.50" x2="468.60" y2="192.50" stroke="#2a2a2a" stroke-width="0.9"/>
<text x="468.60" y="201.45" font-size="6.8" text-anchor="middle" font-weight="normal" font-style="normal" fill="#1e1e1e">20</text>
<line x1="483.60" y1="190.50" x2="483.60" y2="192.50" stroke="#2a2a2a" stroke-width="0.9"/>
<text x="483.60" y="201.45" font-size="6.8" text-anchor="middle" font-weight="normal" font-style="normal" fill="#1e1e1e">24</text>
<line x1="498.60" y1="190.50" x2="498.60" y2="192.50" stroke="#2a2a2a" stroke-width="0.9"/>
<text x="498.60" y="201.45" font-size="6.8" text-anchor="middle" font-weight="normal" font-style="normal" fill="#1e1e1e">28</text>
<text x="370.90" y="135.60" font-size="7.15" text-anchor="middle" fill="#1e1e1e" transform="rotate(-90 370.90 135.60)" dominant-baseline="central">Tumor size (mm<tspan font-size="4.2" dy="-2.5">3</tspan><tspan dy="2.5">)</tspan></text>
<text x="449.00" y="214.30" font-size="7" text-anchor="middle" font-weight="normal" font-style="normal" fill="#1e1e1e">Days post inoculation</text>
<polyline points="393.60,190.50 419.85,172.14 434.85,164.38 446.10,161.55 461.10,155.55 476.10,142.14 491.10,115.31 498.60,98.37" fill="none" stroke="#111111" stroke-width="1.2" stroke-linejoin="round"/>
<line x1="419.85" y1="171.09" x2="419.85" y2="173.20" stroke="#111111" stroke-width="0.9"/>
<line x1="417.65" y1="171.09" x2="422.05" y2="171.09" stroke="#111111" stroke-width="1.0"/>
<line x1="417.65" y1="173.20" x2="422.05" y2="173.20" stroke="#111111" stroke-width="1.0"/>
<line x1="434.85" y1="162.97" x2="434.85" y2="165.79" stroke="#111111" stroke-width="0.9"/>
<line x1="432.65" y1="162.97" x2="437.05" y2="162.97" stroke="#111111" stroke-width="1.0"/>
<line x1="432.65" y1="165.79" x2="437.05" y2="165.79" stroke="#111111" stroke-width="1.0"/>
<line x1="446.10" y1="160.14" x2="446.10" y2="162.97" stroke="#111111" stroke-width="0.9"/>
<line x1="443.90" y1="160.14" x2="448.30" y2="160.14" stroke="#111111" stroke-width="1.0"/>
<line x1="443.90" y1="162.97" x2="448.30" y2="162.97" stroke="#111111" stroke-width="1.0"/>
<line x1="461.10" y1="150.26" x2="461.10" y2="160.85" stroke="#111111" stroke-width="0.9"/>
<line x1="458.90" y1="150.26" x2="463.30" y2="150.26" stroke="#111111" stroke-width="1.0"/>
<line x1="458.90" y1="160.85" x2="463.30" y2="160.85" stroke="#111111" stroke-width="1.0"/>
<line x1="476.10" y1="136.14" x2="476.10" y2="148.14" stroke="#111111" stroke-width="0.9"/>
<line x1="473.90" y1="136.14" x2="478.30" y2="136.14" stroke="#111111" stroke-width="1.0"/>
<line x1="473.90" y1="148.14" x2="478.30" y2="148.14" stroke="#111111" stroke-width="1.0"/>
<line x1="491.10" y1="108.60" x2="491.10" y2="122.02" stroke="#111111" stroke-width="0.9"/>
<line x1="488.90" y1="108.60" x2="493.30" y2="108.60" stroke="#111111" stroke-width="1.0"/>
<line x1="488.90" y1="122.02" x2="493.30" y2="122.02" stroke="#111111" stroke-width="1.0"/>
<line x1="498.60" y1="94.48" x2="498.60" y2="102.25" stroke="#111111" stroke-width="0.9"/>
<line x1="496.40" y1="94.48" x2="500.80" y2="94.48" stroke="#111111" stroke-width="1.0"/>
<line x1="496.40" y1="102.25" x2="500.80" y2="102.25" stroke="#111111" stroke-width="1.0"/>
<rect x="390.90" y="187.80" width="5.40" height="5.40" fill="#111111"/>
<rect x="417.15" y="169.44" width="5.40" height="5.40" fill="#111111"/>
<rect x="432.15" y="161.68" width="5.40" height="5.40" fill="#111111"/>
<rect x="443.40" y="158.85" width="5.40" height="5.40" fill="#111111"/>
<rect x="458.40" y="152.85" width="5.40" height="5.40" fill="#111111"/>
<rect x="473.40" y="139.44" width="5.40" height="5.40" fill="#111111"/>
<rect x="488.40" y="112.61" width="5.40" height="5.40" fill="#111111"/>
<rect x="495.90" y="95.67" width="5.40" height="5.40" fill="#111111"/>
<polyline points="393.60,190.50 419.85,178.50 434.85,182.73 446.10,188.38 461.10,190.50 476.10,190.50 491.10,190.50 498.60,190.50" fill="none" stroke="#3050a4" stroke-width="1.2" stroke-linejoin="round"/>
<line x1="419.85" y1="177.44" x2="419.85" y2="179.56" stroke="#3050a4" stroke-width="0.9"/>
<line x1="417.65" y1="177.44" x2="422.05" y2="177.44" stroke="#3050a4" stroke-width="1.0"/>
<line x1="417.65" y1="179.56" x2="422.05" y2="179.56" stroke="#3050a4" stroke-width="1.0"/>
<line x1="434.85" y1="181.68" x2="434.85" y2="183.79" stroke="#3050a4" stroke-width="0.9"/>
<line x1="432.65" y1="181.68" x2="437.05" y2="181.68" stroke="#3050a4" stroke-width="1.0"/>
<line x1="432.65" y1="183.79" x2="437.05" y2="183.79" stroke="#3050a4" stroke-width="1.0"/>
<line x1="446.10" y1="187.68" x2="446.10" y2="189.09" stroke="#3050a4" stroke-width="0.9"/>
<line x1="443.90" y1="187.68" x2="448.30" y2="187.68" stroke="#3050a4" stroke-width="1.0"/>
<line x1="443.90" y1="189.09" x2="448.30" y2="189.09" stroke="#3050a4" stroke-width="1.0"/>
<rect x="390.90" y="187.80" width="5.40" height="5.40" fill="#3050a4"/>
<rect x="417.15" y="175.80" width="5.40" height="5.40" fill="#3050a4"/>
<rect x="432.15" y="180.03" width="5.40" height="5.40" fill="#3050a4"/>
<rect x="443.40" y="185.68" width="5.40" height="5.40" fill="#3050a4"/>
<rect x="458.40" y="187.80" width="5.40" height="5.40" fill="#3050a4"/>
<rect x="473.40" y="187.80" width="5.40" height="5.40" fill="#3050a4"/>
<rect x="488.40" y="187.80" width="5.40" height="5.40" fill="#3050a4"/>
<rect x="495.90" y="187.80" width="5.40" height="5.40" fill="#3050a4"/>
<polyline points="393.60,190.50 419.85,185.91 434.85,190.50 446.10,190.50 461.10,190.50 476.10,190.50 491.10,190.50 498.60,190.50" fill="none" stroke="#e3242b" stroke-width="1.2" stroke-linejoin="round"/>
<line x1="419.85" y1="185.21" x2="419.85" y2="186.62" stroke="#e3242b" stroke-width="0.9"/>
<line x1="417.65" y1="185.21" x2="422.05" y2="185.21" stroke="#e3242b" stroke-width="1.0"/>
<line x1="417.65" y1="186.62" x2="422.05" y2="186.62" stroke="#e3242b" stroke-width="1.0"/>
<rect x="390.90" y="187.80" width="5.40" height="5.40" fill="#e3242b"/>
<rect x="417.15" y="183.21" width="5.40" height="5.40" fill="#e3242b"/>
<rect x="432.15" y="187.80" width="5.40" height="5.40" fill="#e3242b"/>
<rect x="443.40" y="187.80" width="5.40" height="5.40" fill="#e3242b"/>
<rect x="458.40" y="187.80" width="5.40" height="5.40" fill="#e3242b"/>
<rect x="473.40" y="187.80" width="5.40" height="5.40" fill="#e3242b"/>
<rect x="488.40" y="187.80" width="5.40" height="5.40" fill="#e3242b"/>
<rect x="495.90" y="187.80" width="5.40" height="5.40" fill="#e3242b"/>
<line x1="502.40" y1="99.40" x2="502.40" y2="189.60" stroke="#3050a4" stroke-width="0.9"/>
<line x1="511.60" y1="99.40" x2="511.60" y2="190.00" stroke="#e3242b" stroke-width="0.9"/>
<path d="M505.00,141.80L508.60,141.80M505.90,140.24L507.70,143.36M507.70,140.24L505.90,143.36" stroke="#222" stroke-width="1.1" fill="none"/>
<path d="M505.00,146.90L508.60,146.90M505.90,145.34L507.70,148.46M507.70,145.34L505.90,148.46" stroke="#222" stroke-width="1.1" fill="none"/>
<path d="M505.00,152.00L508.60,152.00M505.90,150.44L507.70,153.56M507.70,150.44L505.90,153.56" stroke="#222" stroke-width="1.1" fill="none"/>
<path d="M514.20,141.80L517.80,141.80M515.10,140.24L516.90,143.36M516.90,140.24L515.10,143.36" stroke="#222" stroke-width="1.1" fill="none"/>
<path d="M514.20,146.90L517.80,146.90M515.10,145.34L516.90,148.46M516.90,145.34L515.10,148.46" stroke="#222" stroke-width="1.1" fill="none"/>
<path d="M514.20,152.00L517.80,152.00M515.10,150.44L516.90,153.56M516.90,150.44L515.10,153.56" stroke="#222" stroke-width="1.1" fill="none"/>
<text x="0.00" y="233.90" font-size="12.5" text-anchor="start" font-weight="bold" font-style="normal" fill="#111" style="stroke:#111;stroke-width:0.15px">D</text>
<line x1="38.70" y1="235.80" x2="47.90" y2="235.80" stroke="#111111" stroke-width="1.0"/>
<rect x="41.00" y="233.50" width="4.60" height="4.60" fill="#111111"/>
<text x="51.40" y="238.30" font-size="7.25" text-anchor="start" font-weight="normal" font-style="normal" fill="#1e1e1e">MC38 WT</text>
<line x1="38.70" y1="245.00" x2="47.90" y2="245.00" stroke="#3050a4" stroke-width="1.0"/>
<rect x="41.00" y="242.70" width="4.60" height="4.60" fill="#3050a4"/>
<text x="51.40" y="247.50" font-size="7.25" text-anchor="start" font-weight="normal" font-style="normal" fill="#1e1e1e">MC38 <tspan font-style="italic">Hdac3</tspan><tspan font-size="4.2" dy="-2.9" fill="#555" style="stroke:none">+/-</tspan></text>
<line x1="38.70" y1="253.60" x2="47.90" y2="253.60" stroke="#e3242b" stroke-width="1.0"/>
<rect x="41.00" y="251.30" width="4.60" height="4.60" fill="#e3242b"/>
<text x="51.40" y="256.10" font-size="7.25" text-anchor="start" font-weight="normal" font-style="normal" fill="#1e1e1e">MC38 <tspan font-style="italic">Hdac3</tspan><tspan font-size="4.2" dy="-2.9" fill="#555" style="stroke:none">-/-</tspan></text>
<line x1="36.30" y1="345.90" x2="36.30" y2="239.70" stroke="#2a2a2a" stroke-width="1.1"/>
<line x1="34.00" y1="345.90" x2="36.30" y2="345.90" stroke="#2a2a2a" stroke-width="0.9"/>
<text x="31.80" y="348.35" font-size="6.8" text-anchor="end" font-weight="normal" font-style="normal" fill="#1e1e1e">0</text>
<line x1="34.00" y1="310.50" x2="36.30" y2="310.50" stroke="#2a2a2a" stroke-width="0.9"/>
<text x="31.80" y="312.95" font-size="6.8" text-anchor="end" font-weight="normal" font-style="normal" fill="#1e1e1e">100</text>
<line x1="34.00" y1="275.10" x2="36.30" y2="275.10" stroke="#2a2a2a" stroke-width="0.9"/>
<text x="31.80" y="277.55" font-size="6.8" text-anchor="end" font-weight="normal" font-style="normal" fill="#1e1e1e">200</text>
<line x1="34.00" y1="239.70" x2="36.30" y2="239.70" stroke="#2a2a2a" stroke-width="0.9"/>
<text x="31.80" y="242.15" font-size="6.8" text-anchor="end" font-weight="normal" font-style="normal" fill="#1e1e1e">300</text>
<line x1="36.30" y1="345.90" x2="137.66" y2="345.90" stroke="#2a2a2a" stroke-width="1.1"/>
<line x1="36.30" y1="345.90" x2="36.30" y2="347.90" stroke="#2a2a2a" stroke-width="0.9"/>
<text x="36.30" y="355.95" font-size="6.8" text-anchor="middle" font-weight="normal" font-style="normal" fill="#1e1e1e">0</text>
<line x1="50.78" y1="345.90" x2="50.78" y2="347.90" stroke="#2a2a2a" stroke-width="0.9"/>
<text x="50.78" y="355.95" font-size="6.8" text-anchor="middle" font-weight="normal" font-style="normal" fill="#1e1e1e">4</text>
<line x1="65.26" y1="345.90" x2="65.26" y2="347.90" stroke="#2a2a2a" stroke-width="0.9"/>
<text x="65.26" y="355.95" font-size="6.8" text-anchor="middle" font-weight="normal" font-style="normal" fill="#1e1e1e">8</text>
<line x1="79.74" y1="345.90" x2="79.74" y2="347.90" stroke="#2a2a2a" stroke-width="0.9"/>
<text x="79.74" y="355.95" font-size="6.8" text-anchor="middle" font-weight="normal" font-style="normal" fill="#1e1e1e">12</text>
<line x1="94.22" y1="345.90" x2="94.22" y2="347.90" stroke="#2a2a2a" stroke-width="0.9"/>
<text x="94.22" y="355.95" font-size="6.8" text-anchor="middle" font-weight="normal" font-style="normal" fill="#1e1e1e">16</text>
<line x1="108.70" y1="345.90" x2="108.70" y2="347.90" stroke="#2a2a2a" stroke-width="0.9"/>
<text x="108.70" y="355.95" font-size="6.8" text-anchor="middle" font-weight="normal" font-style="normal" fill="#1e1e1e">20</text>
<line x1="123.18" y1="345.90" x2="123.18" y2="347.90" stroke="#2a2a2a" stroke-width="0.9"/>
<text x="123.18" y="355.95" font-size="6.8" text-anchor="middle" font-weight="normal" font-style="normal" fill="#1e1e1e">24</text>
<line x1="137.66" y1="345.90" x2="137.66" y2="347.90" stroke="#2a2a2a" stroke-width="0.9"/>
<text x="137.66" y="355.95" font-size="6.8" text-anchor="middle" font-weight="normal" font-style="normal" fill="#1e1e1e">28</text>
<text x="13.30" y="289.30" font-size="7.15" text-anchor="middle" fill="#1e1e1e" transform="rotate(-90 13.30 289.30)" dominant-baseline="central">Tumor size (mm<tspan font-size="4.2" dy="-2.5">3</tspan><tspan dy="2.5">)</tspan></text>
<text x="87.40" y="365.60" font-size="7" text-anchor="middle" font-weight="normal" font-style="normal" fill="#1e1e1e">Days post inoculation</text>
<polyline points="36.30,345.90 58.02,331.39 76.12,312.98 90.60,297.05 101.46,282.89 112.32,255.63 123.18,243.59" fill="none" stroke="#3050a4" stroke-width="1.2" stroke-linejoin="round"/>
<line x1="58.02" y1="330.32" x2="58.02" y2="332.45" stroke="#3050a4" stroke-width="0.9"/>
<line x1="55.82" y1="330.32" x2="60.22" y2="330.32" stroke="#3050a4" stroke-width="1.0"/>
<line x1="55.82" y1="332.45" x2="60.22" y2="332.45" stroke="#3050a4" stroke-width="1.0"/>
<line x1="76.12" y1="311.21" x2="76.12" y2="314.75" stroke="#3050a4" stroke-width="0.9"/>
<line x1="73.92" y1="311.21" x2="78.32" y2="311.21" stroke="#3050a4" stroke-width="1.0"/>
<line x1="73.92" y1="314.75" x2="78.32" y2="314.75" stroke="#3050a4" stroke-width="1.0"/>
<line x1="90.60" y1="294.22" x2="90.60" y2="299.88" stroke="#3050a4" stroke-width="0.9"/>
<line x1="88.40" y1="294.22" x2="92.80" y2="294.22" stroke="#3050a4" stroke-width="1.0"/>
<line x1="88.40" y1="299.88" x2="92.80" y2="299.88" stroke="#3050a4" stroke-width="1.0"/>
<line x1="101.46" y1="279.35" x2="101.46" y2="286.43" stroke="#3050a4" stroke-width="0.9"/>
<line x1="99.26" y1="279.35" x2="103.66" y2="279.35" stroke="#3050a4" stroke-width="1.0"/>
<line x1="99.26" y1="286.43" x2="103.66" y2="286.43" stroke="#3050a4" stroke-width="1.0"/>
<line x1="112.32" y1="252.09" x2="112.32" y2="259.17" stroke="#3050a4" stroke-width="0.9"/>
<line x1="110.12" y1="252.09" x2="114.52" y2="252.09" stroke="#3050a4" stroke-width="1.0"/>
<line x1="110.12" y1="259.17" x2="114.52" y2="259.17" stroke="#3050a4" stroke-width="1.0"/>
<line x1="123.18" y1="240.76" x2="123.18" y2="246.43" stroke="#3050a4" stroke-width="0.9"/>
<line x1="120.98" y1="240.76" x2="125.38" y2="240.76" stroke="#3050a4" stroke-width="1.0"/>
<line x1="120.98" y1="246.43" x2="125.38" y2="246.43" stroke="#3050a4" stroke-width="1.0"/>
<rect x="33.60" y="343.20" width="5.40" height="5.40" fill="#3050a4"/>
<rect x="55.32" y="328.69" width="5.40" height="5.40" fill="#3050a4"/>
<rect x="73.42" y="310.28" width="5.40" height="5.40" fill="#3050a4"/>
<rect x="87.90" y="294.35" width="5.40" height="5.40" fill="#3050a4"/>
<rect x="98.76" y="280.19" width="5.40" height="5.40" fill="#3050a4"/>
<rect x="109.62" y="252.93" width="5.40" height="5.40" fill="#3050a4"/>
<rect x="120.48" y="240.89" width="5.40" height="5.40" fill="#3050a4"/>
<polyline points="36.30,345.90 58.02,332.09 76.12,312.98 90.60,292.80 101.46,272.27 112.32,258.46 123.18,245.01" fill="none" stroke="#e3242b" stroke-width="1.2" stroke-linejoin="round"/>
<line x1="58.02" y1="331.03" x2="58.02" y2="333.16" stroke="#e3242b" stroke-width="0.9"/>
<line x1="55.82" y1="331.03" x2="60.22" y2="331.03" stroke="#e3242b" stroke-width="1.0"/>
<line x1="55.82" y1="333.16" x2="60.22" y2="333.16" stroke="#e3242b" stroke-width="1.0"/>
<line x1="76.12" y1="311.21" x2="76.12" y2="314.75" stroke="#e3242b" stroke-width="0.9"/>
<line x1="73.92" y1="311.21" x2="78.32" y2="311.21" stroke="#e3242b" stroke-width="1.0"/>
<line x1="73.92" y1="314.75" x2="78.32" y2="314.75" stroke="#e3242b" stroke-width="1.0"/>
<line x1="90.60" y1="289.97" x2="90.60" y2="295.63" stroke="#e3242b" stroke-width="0.9"/>
<line x1="88.40" y1="289.97" x2="92.80" y2="289.97" stroke="#e3242b" stroke-width="1.0"/>
<line x1="88.40" y1="295.63" x2="92.80" y2="295.63" stroke="#e3242b" stroke-width="1.0"/>
<line x1="101.46" y1="265.90" x2="101.46" y2="278.64" stroke="#e3242b" stroke-width="0.9"/>
<line x1="99.26" y1="265.90" x2="103.66" y2="265.90" stroke="#e3242b" stroke-width="1.0"/>
<line x1="99.26" y1="278.64" x2="103.66" y2="278.64" stroke="#e3242b" stroke-width="1.0"/>
<line x1="112.32" y1="254.92" x2="112.32" y2="262.00" stroke="#e3242b" stroke-width="0.9"/>
<line x1="110.12" y1="254.92" x2="114.52" y2="254.92" stroke="#e3242b" stroke-width="1.0"/>
<line x1="110.12" y1="262.00" x2="114.52" y2="262.00" stroke="#e3242b" stroke-width="1.0"/>
<line x1="123.18" y1="242.18" x2="123.18" y2="247.84" stroke="#e3242b" stroke-width="0.9"/>
<line x1="120.98" y1="242.18" x2="125.38" y2="242.18" stroke="#e3242b" stroke-width="1.0"/>
<line x1="120.98" y1="247.84" x2="125.38" y2="247.84" stroke="#e3242b" stroke-width="1.0"/>
<rect x="33.60" y="343.20" width="5.40" height="5.40" fill="#e3242b"/>
<rect x="55.32" y="329.39" width="5.40" height="5.40" fill="#e3242b"/>
<rect x="73.42" y="310.28" width="5.40" height="5.40" fill="#e3242b"/>
<rect x="87.90" y="290.10" width="5.40" height="5.40" fill="#e3242b"/>
<rect x="98.76" y="269.57" width="5.40" height="5.40" fill="#e3242b"/>
<rect x="109.62" y="255.76" width="5.40" height="5.40" fill="#e3242b"/>
<rect x="120.48" y="242.31" width="5.40" height="5.40" fill="#e3242b"/>
<polyline points="36.30,345.90 58.02,331.39 76.12,314.04 90.60,299.53 101.46,285.72 112.32,268.73 123.18,256.34" fill="none" stroke="#111111" stroke-width="1.2" stroke-linejoin="round"/>
<line x1="58.02" y1="330.32" x2="58.02" y2="332.45" stroke="#111111" stroke-width="0.9"/>
<line x1="55.82" y1="330.32" x2="60.22" y2="330.32" stroke="#111111" stroke-width="1.0"/>
<line x1="55.82" y1="332.45" x2="60.22" y2="332.45" stroke="#111111" stroke-width="1.0"/>
<line x1="76.12" y1="311.92" x2="76.12" y2="316.16" stroke="#111111" stroke-width="0.9"/>
<line x1="73.92" y1="311.92" x2="78.32" y2="311.92" stroke="#111111" stroke-width="1.0"/>
<line x1="73.92" y1="316.16" x2="78.32" y2="316.16" stroke="#111111" stroke-width="1.0"/>
<line x1="90.60" y1="295.28" x2="90.60" y2="303.77" stroke="#111111" stroke-width="0.9"/>
<line x1="88.40" y1="295.28" x2="92.80" y2="295.28" stroke="#111111" stroke-width="1.0"/>
<line x1="88.40" y1="303.77" x2="92.80" y2="303.77" stroke="#111111" stroke-width="1.0"/>
<line x1="101.46" y1="280.06" x2="101.46" y2="291.38" stroke="#111111" stroke-width="0.9"/>
<line x1="99.26" y1="280.06" x2="103.66" y2="280.06" stroke="#111111" stroke-width="1.0"/>
<line x1="99.26" y1="291.38" x2="103.66" y2="291.38" stroke="#111111" stroke-width="1.0"/>
<line x1="112.32" y1="262.71" x2="112.32" y2="274.75" stroke="#111111" stroke-width="0.9"/>
<line x1="110.12" y1="262.71" x2="114.52" y2="262.71" stroke="#111111" stroke-width="1.0"/>
<line x1="110.12" y1="274.75" x2="114.52" y2="274.75" stroke="#111111" stroke-width="1.0"/>
<line x1="123.18" y1="250.32" x2="123.18" y2="262.36" stroke="#111111" stroke-width="0.9"/>
<line x1="120.98" y1="250.32" x2="125.38" y2="250.32" stroke="#111111" stroke-width="1.0"/>
<line x1="120.98" y1="262.36" x2="125.38" y2="262.36" stroke="#111111" stroke-width="1.0"/>
<rect x="33.60" y="343.20" width="5.40" height="5.40" fill="#111111"/>
<rect x="55.32" y="328.69" width="5.40" height="5.40" fill="#111111"/>
<rect x="73.42" y="311.34" width="5.40" height="5.40" fill="#111111"/>
<rect x="87.90" y="296.83" width="5.40" height="5.40" fill="#111111"/>
<rect x="98.76" y="283.02" width="5.40" height="5.40" fill="#111111"/>
<rect x="109.62" y="266.03" width="5.40" height="5.40" fill="#111111"/>
<rect x="120.48" y="253.64" width="5.40" height="5.40" fill="#111111"/>
<line x1="128.60" y1="244.30" x2="128.60" y2="256.40" stroke="#e3242b" stroke-width="0.9"/>
<line x1="135.60" y1="244.30" x2="135.60" y2="256.40" stroke="#3050a4" stroke-width="0.9"/>
<text x="131.30" y="250.40" font-size="6.5" text-anchor="middle" font-weight="normal" font-style="normal" fill="#1e1e1e" transform="rotate(-90 131.30 250.40)" dominant-baseline="central">ns</text>
<text x="139.10" y="250.20" font-size="6.5" text-anchor="middle" font-weight="normal" font-style="normal" fill="#1e1e1e" transform="rotate(-90 139.10 250.20)" dominant-baseline="central">ns</text>
<text x="173.40" y="233.90" font-size="12.5" text-anchor="start" font-weight="bold" font-style="normal" fill="#111" style="stroke:#111;stroke-width:0.15px">E</text>
<line x1="210.40" y1="235.10" x2="219.60" y2="235.10" stroke="#111111" stroke-width="1.0"/>
<rect x="212.70" y="232.80" width="4.60" height="4.60" fill="#111111"/>
<text x="221.40" y="237.60" font-size="7.25" text-anchor="start" font-weight="normal" font-style="normal" fill="#1e1e1e">MCA205 WT</text>
<line x1="210.40" y1="244.80" x2="219.60" y2="244.80" stroke="#3050a4" stroke-width="1.0"/>
<rect x="212.70" y="242.50" width="4.60" height="4.60" fill="#3050a4"/>
<text x="221.40" y="247.30" font-size="7.25" text-anchor="start" font-weight="normal" font-style="normal" fill="#1e1e1e">MCA205 <tspan font-style="italic">Hdac3</tspan><tspan font-size="4.2" dy="-2.9" fill="#555" style="stroke:none">+/-</tspan></text>
<line x1="210.40" y1="253.30" x2="219.60" y2="253.30" stroke="#e3242b" stroke-width="1.0"/>
<rect x="212.70" y="251.00" width="4.60" height="4.60" fill="#e3242b"/>
<text x="221.40" y="255.80" font-size="7.25" text-anchor="start" font-weight="normal" font-style="normal" fill="#1e1e1e">MCA205 <tspan font-style="italic">Hdac3</tspan><tspan font-size="4.2" dy="-2.9" fill="#555" style="stroke:none">-/-</tspan></text>
<line x1="207.20" y1="346.90" x2="207.20" y2="239.41" stroke="#2a2a2a" stroke-width="1.1"/>
<line x1="204.90" y1="346.90" x2="207.20" y2="346.90" stroke="#2a2a2a" stroke-width="0.9"/>
<text x="202.60" y="349.35" font-size="6.8" text-anchor="end" font-weight="normal" font-style="normal" fill="#1e1e1e">0</text>
<line x1="204.90" y1="311.07" x2="207.20" y2="311.07" stroke="#2a2a2a" stroke-width="0.9"/>
<text x="202.60" y="313.52" font-size="6.8" text-anchor="end" font-weight="normal" font-style="normal" fill="#1e1e1e">100</text>
<line x1="204.90" y1="275.24" x2="207.20" y2="275.24" stroke="#2a2a2a" stroke-width="0.9"/>
<text x="202.60" y="277.69" font-size="6.8" text-anchor="end" font-weight="normal" font-style="normal" fill="#1e1e1e">200</text>
<line x1="204.90" y1="239.41" x2="207.20" y2="239.41" stroke="#2a2a2a" stroke-width="0.9"/>
<text x="202.60" y="241.86" font-size="6.8" text-anchor="end" font-weight="normal" font-style="normal" fill="#1e1e1e">300</text>
<line x1="207.20" y1="346.90" x2="311.64" y2="346.90" stroke="#2a2a2a" stroke-width="1.1"/>
<line x1="207.20" y1="346.90" x2="207.20" y2="348.90" stroke="#2a2a2a" stroke-width="0.9"/>
<text x="207.20" y="357.85" font-size="6.8" text-anchor="middle" font-weight="normal" font-style="normal" fill="#1e1e1e">0</text>
<line x1="222.12" y1="346.90" x2="222.12" y2="348.90" stroke="#2a2a2a" stroke-width="0.9"/>
<text x="222.12" y="357.85" font-size="6.8" text-anchor="middle" font-weight="normal" font-style="normal" fill="#1e1e1e">4</text>
<line x1="237.04" y1="346.90" x2="237.04" y2="348.90" stroke="#2a2a2a" stroke-width="0.9"/>
<text x="237.04" y="357.85" font-size="6.8" text-anchor="middle" font-weight="normal" font-style="normal" fill="#1e1e1e">8</text>
<line x1="251.96" y1="346.90" x2="251.96" y2="348.90" stroke="#2a2a2a" stroke-width="0.9"/>
<text x="251.96" y="357.85" font-size="6.8" text-anchor="middle" font-weight="normal" font-style="normal" fill="#1e1e1e">12</text>
<line x1="266.88" y1="346.90" x2="266.88" y2="348.90" stroke="#2a2a2a" stroke-width="0.9"/>
<text x="266.88" y="357.85" font-size="6.8" text-anchor="middle" font-weight="normal" font-style="normal" fill="#1e1e1e">16</text>
<line x1="281.80" y1="346.90" x2="281.80" y2="348.90" stroke="#2a2a2a" stroke-width="0.9"/>
<text x="281.80" y="357.85" font-size="6.8" text-anchor="middle" font-weight="normal" font-style="normal" fill="#1e1e1e">20</text>
<line x1="296.72" y1="346.90" x2="296.72" y2="348.90" stroke="#2a2a2a" stroke-width="0.9"/>
<text x="296.72" y="357.85" font-size="6.8" text-anchor="middle" font-weight="normal" font-style="normal" fill="#1e1e1e">24</text>
<line x1="311.64" y1="346.90" x2="311.64" y2="348.90" stroke="#2a2a2a" stroke-width="0.9"/>
<text x="311.64" y="357.85" font-size="6.8" text-anchor="middle" font-weight="normal" font-style="normal" fill="#1e1e1e">28</text>
<text x="183.80" y="294.10" font-size="7.15" text-anchor="middle" fill="#1e1e1e" transform="rotate(-90 183.80 294.10)" dominant-baseline="central">Tumor size (mm<tspan font-size="4.2" dy="-2.5">3</tspan><tspan dy="2.5">)</tspan></text>
<text x="259.90" y="367.60" font-size="7" text-anchor="middle" font-weight="normal" font-style="normal" fill="#1e1e1e">Days post inoculation</text>
<polyline points="207.20,346.90 233.31,327.55 251.96,311.07 259.42,296.02 266.88,279.90 281.80,258.04 289.26,247.29" fill="none" stroke="#111111" stroke-width="1.2" stroke-linejoin="round"/>
<line x1="233.31" y1="326.48" x2="233.31" y2="328.63" stroke="#111111" stroke-width="0.9"/>
<line x1="231.11" y1="326.48" x2="235.51" y2="326.48" stroke="#111111" stroke-width="1.0"/>
<line x1="231.11" y1="328.63" x2="235.51" y2="328.63" stroke="#111111" stroke-width="1.0"/>
<line x1="251.96" y1="309.64" x2="251.96" y2="312.50" stroke="#111111" stroke-width="0.9"/>
<line x1="249.76" y1="309.64" x2="254.16" y2="309.64" stroke="#111111" stroke-width="1.0"/>
<line x1="249.76" y1="312.50" x2="254.16" y2="312.50" stroke="#111111" stroke-width="1.0"/>
<line x1="259.42" y1="294.23" x2="259.42" y2="297.81" stroke="#111111" stroke-width="0.9"/>
<line x1="257.22" y1="294.23" x2="261.62" y2="294.23" stroke="#111111" stroke-width="1.0"/>
<line x1="257.22" y1="297.81" x2="261.62" y2="297.81" stroke="#111111" stroke-width="1.0"/>
<line x1="266.88" y1="277.03" x2="266.88" y2="282.76" stroke="#111111" stroke-width="0.9"/>
<line x1="264.68" y1="277.03" x2="269.08" y2="277.03" stroke="#111111" stroke-width="1.0"/>
<line x1="264.68" y1="282.76" x2="269.08" y2="282.76" stroke="#111111" stroke-width="1.0"/>
<line x1="281.80" y1="254.46" x2="281.80" y2="261.62" stroke="#111111" stroke-width="0.9"/>
<line x1="279.60" y1="254.46" x2="284.00" y2="254.46" stroke="#111111" stroke-width="1.0"/>
<line x1="279.60" y1="261.62" x2="284.00" y2="261.62" stroke="#111111" stroke-width="1.0"/>
<line x1="289.26" y1="244.43" x2="289.26" y2="250.16" stroke="#111111" stroke-width="0.9"/>
<line x1="287.06" y1="244.43" x2="291.46" y2="244.43" stroke="#111111" stroke-width="1.0"/>
<line x1="287.06" y1="250.16" x2="291.46" y2="250.16" stroke="#111111" stroke-width="1.0"/>
<rect x="204.50" y="344.20" width="5.40" height="5.40" fill="#111111"/>
<rect x="230.61" y="324.85" width="5.40" height="5.40" fill="#111111"/>
<rect x="249.26" y="308.37" width="5.40" height="5.40" fill="#111111"/>
<rect x="256.72" y="293.32" width="5.40" height="5.40" fill="#111111"/>
<rect x="264.18" y="277.20" width="5.40" height="5.40" fill="#111111"/>
<rect x="279.10" y="255.34" width="5.40" height="5.40" fill="#111111"/>
<rect x="286.56" y="244.59" width="5.40" height="5.40" fill="#111111"/>
<polyline points="207.20,346.90 233.31,332.57 251.96,314.29 259.42,298.17 266.88,280.61 281.80,260.19 289.26,252.31" fill="none" stroke="#3050a4" stroke-width="1.2" stroke-linejoin="round"/>
<line x1="233.31" y1="331.49" x2="233.31" y2="333.64" stroke="#3050a4" stroke-width="0.9"/>
<line x1="231.11" y1="331.49" x2="235.51" y2="331.49" stroke="#3050a4" stroke-width="1.0"/>
<line x1="231.11" y1="333.64" x2="235.51" y2="333.64" stroke="#3050a4" stroke-width="1.0"/>
<line x1="251.96" y1="312.50" x2="251.96" y2="316.09" stroke="#3050a4" stroke-width="0.9"/>
<line x1="249.76" y1="312.50" x2="254.16" y2="312.50" stroke="#3050a4" stroke-width="1.0"/>
<line x1="249.76" y1="316.09" x2="254.16" y2="316.09" stroke="#3050a4" stroke-width="1.0"/>
<line x1="259.42" y1="295.30" x2="259.42" y2="301.04" stroke="#3050a4" stroke-width="0.9"/>
<line x1="257.22" y1="295.30" x2="261.62" y2="295.30" stroke="#3050a4" stroke-width="1.0"/>
<line x1="257.22" y1="301.04" x2="261.62" y2="301.04" stroke="#3050a4" stroke-width="1.0"/>
<line x1="266.88" y1="275.24" x2="266.88" y2="285.99" stroke="#3050a4" stroke-width="0.9"/>
<line x1="264.68" y1="275.24" x2="269.08" y2="275.24" stroke="#3050a4" stroke-width="1.0"/>
<line x1="264.68" y1="285.99" x2="269.08" y2="285.99" stroke="#3050a4" stroke-width="1.0"/>
<line x1="281.80" y1="255.18" x2="281.80" y2="265.21" stroke="#3050a4" stroke-width="0.9"/>
<line x1="279.60" y1="255.18" x2="284.00" y2="255.18" stroke="#3050a4" stroke-width="1.0"/>
<line x1="279.60" y1="265.21" x2="284.00" y2="265.21" stroke="#3050a4" stroke-width="1.0"/>
<line x1="289.26" y1="247.65" x2="289.26" y2="256.97" stroke="#3050a4" stroke-width="0.9"/>
<line x1="287.06" y1="247.65" x2="291.46" y2="247.65" stroke="#3050a4" stroke-width="1.0"/>
<line x1="287.06" y1="256.97" x2="291.46" y2="256.97" stroke="#3050a4" stroke-width="1.0"/>
<rect x="204.50" y="344.20" width="5.40" height="5.40" fill="#3050a4"/>
<rect x="230.61" y="329.87" width="5.40" height="5.40" fill="#3050a4"/>
<rect x="249.26" y="311.59" width="5.40" height="5.40" fill="#3050a4"/>
<rect x="256.72" y="295.47" width="5.40" height="5.40" fill="#3050a4"/>
<rect x="264.18" y="277.91" width="5.40" height="5.40" fill="#3050a4"/>
<rect x="279.10" y="257.49" width="5.40" height="5.40" fill="#3050a4"/>
<rect x="286.56" y="249.61" width="5.40" height="5.40" fill="#3050a4"/>
<polyline points="207.20,346.90 233.31,338.30 251.96,330.42 259.42,324.33 266.88,311.07 281.80,286.71 289.26,270.94" fill="none" stroke="#e3242b" stroke-width="1.2" stroke-linejoin="round"/>
<line x1="233.31" y1="337.58" x2="233.31" y2="339.02" stroke="#e3242b" stroke-width="0.9"/>
<line x1="231.11" y1="337.58" x2="235.51" y2="337.58" stroke="#e3242b" stroke-width="1.0"/>
<line x1="231.11" y1="339.02" x2="235.51" y2="339.02" stroke="#e3242b" stroke-width="1.0"/>
<line x1="251.96" y1="329.34" x2="251.96" y2="331.49" stroke="#e3242b" stroke-width="0.9"/>
<line x1="249.76" y1="329.34" x2="254.16" y2="329.34" stroke="#e3242b" stroke-width="1.0"/>
<line x1="249.76" y1="331.49" x2="254.16" y2="331.49" stroke="#e3242b" stroke-width="1.0"/>
<line x1="259.42" y1="323.25" x2="259.42" y2="325.40" stroke="#e3242b" stroke-width="0.9"/>
<line x1="257.22" y1="323.25" x2="261.62" y2="323.25" stroke="#e3242b" stroke-width="1.0"/>
<line x1="257.22" y1="325.40" x2="261.62" y2="325.40" stroke="#e3242b" stroke-width="1.0"/>
<line x1="266.88" y1="309.64" x2="266.88" y2="312.50" stroke="#e3242b" stroke-width="0.9"/>
<line x1="264.68" y1="309.64" x2="269.08" y2="309.64" stroke="#e3242b" stroke-width="1.0"/>
<line x1="264.68" y1="312.50" x2="269.08" y2="312.50" stroke="#e3242b" stroke-width="1.0"/>
<line x1="281.80" y1="284.91" x2="281.80" y2="288.50" stroke="#e3242b" stroke-width="0.9"/>
<line x1="279.60" y1="284.91" x2="284.00" y2="284.91" stroke="#e3242b" stroke-width="1.0"/>
<line x1="279.60" y1="288.50" x2="284.00" y2="288.50" stroke="#e3242b" stroke-width="1.0"/>
<line x1="289.26" y1="269.15" x2="289.26" y2="272.73" stroke="#e3242b" stroke-width="0.9"/>
<line x1="287.06" y1="269.15" x2="291.46" y2="269.15" stroke="#e3242b" stroke-width="1.0"/>
<line x1="287.06" y1="272.73" x2="291.46" y2="272.73" stroke="#e3242b" stroke-width="1.0"/>
<rect x="204.50" y="344.20" width="5.40" height="5.40" fill="#e3242b"/>
<rect x="230.61" y="335.60" width="5.40" height="5.40" fill="#e3242b"/>
<rect x="249.26" y="327.72" width="5.40" height="5.40" fill="#e3242b"/>
<rect x="256.72" y="321.63" width="5.40" height="5.40" fill="#e3242b"/>
<rect x="264.18" y="308.37" width="5.40" height="5.40" fill="#e3242b"/>
<rect x="279.10" y="284.01" width="5.40" height="5.40" fill="#e3242b"/>
<rect x="286.56" y="268.24" width="5.40" height="5.40" fill="#e3242b"/>
<line x1="294.50" y1="247.10" x2="294.50" y2="269.50" stroke="#e3242b" stroke-width="1.0"/>
<line x1="301.20" y1="246.90" x2="301.20" y2="259.50" stroke="#3050a4" stroke-width="1.0"/>
<text x="297.60" y="253.60" font-size="6.5" text-anchor="middle" font-weight="normal" font-style="normal" fill="#1e1e1e" transform="rotate(-90 297.60 253.60)" dominant-baseline="central">ns</text>
<text x="304.70" y="253.20" font-size="6.5" text-anchor="middle" font-weight="normal" font-style="normal" fill="#1e1e1e" transform="rotate(-90 304.70 253.20)" dominant-baseline="central">ns</text>
<text x="356.60" y="233.90" font-size="12.5" text-anchor="start" font-weight="bold" font-style="normal" fill="#111" style="stroke:#111;stroke-width:0.15px">F</text>
<text x="440.80" y="229.90" font-size="7" text-anchor="middle" font-weight="normal" font-style="normal" fill="#1e1e1e">C57BL/6</text>
<line x1="405.20" y1="240.30" x2="415.00" y2="240.30" stroke="#232a78" stroke-width="1.0"/>
<line x1="410.10" y1="238.80" x2="410.10" y2="240.30" stroke="#232a78" stroke-width="0.8"/>
<text x="419.80" y="242.80" font-size="7.2" text-anchor="start" font-weight="normal" font-style="normal" fill="#1e1e1e">MCA205 WT</text>
<line x1="405.20" y1="250.60" x2="415.00" y2="250.60" stroke="#e0232c" stroke-width="1.0"/>
<line x1="410.10" y1="249.10" x2="410.10" y2="250.60" stroke="#e0232c" stroke-width="0.8"/>
<text x="419.80" y="253.10" font-size="7.2" text-anchor="start" font-weight="normal" font-style="normal" fill="#1e1e1e">MCA205 <tspan font-style="italic">Hdac3</tspan><tspan font-size="4.2" dy="-2.9" fill="#555" style="stroke:none">-/-</tspan></text>
<line x1="390.10" y1="346.80" x2="390.10" y2="255.90" stroke="#2a2a2a" stroke-width="1.1"/>
<line x1="387.80" y1="346.80" x2="390.10" y2="346.80" stroke="#2a2a2a" stroke-width="0.9"/>
<text x="386.20" y="349.25" font-size="6.8" text-anchor="end" font-weight="normal" font-style="normal" fill="#1e1e1e">0</text>
<line x1="387.80" y1="326.15" x2="390.10" y2="326.15" stroke="#2a2a2a" stroke-width="0.9"/>
<text x="386.20" y="328.60" font-size="6.8" text-anchor="end" font-weight="normal" font-style="normal" fill="#1e1e1e">25</text>
<line x1="387.80" y1="305.50" x2="390.10" y2="305.50" stroke="#2a2a2a" stroke-width="0.9"/>
<text x="386.20" y="307.95" font-size="6.8" text-anchor="end" font-weight="normal" font-style="normal" fill="#1e1e1e">50</text>
<line x1="387.80" y1="284.85" x2="390.10" y2="284.85" stroke="#2a2a2a" stroke-width="0.9"/>
<text x="386.20" y="287.30" font-size="6.8" text-anchor="end" font-weight="normal" font-style="normal" fill="#1e1e1e">75</text>
<line x1="387.80" y1="264.20" x2="390.10" y2="264.20" stroke="#2a2a2a" stroke-width="0.9"/>
<text x="386.20" y="266.65" font-size="6.8" text-anchor="end" font-weight="normal" font-style="normal" fill="#1e1e1e">100</text>
<line x1="390.10" y1="346.80" x2="503.60" y2="346.80" stroke="#2a2a2a" stroke-width="1.1"/>
<line x1="390.10" y1="346.80" x2="390.10" y2="348.80" stroke="#2a2a2a" stroke-width="0.9"/>
<text x="390.10" y="357.05" font-size="6.8" text-anchor="middle" font-weight="normal" font-style="normal" fill="#1e1e1e">0</text>
<line x1="412.80" y1="346.80" x2="412.80" y2="348.80" stroke="#2a2a2a" stroke-width="0.9"/>
<text x="412.80" y="357.05" font-size="6.8" text-anchor="middle" font-weight="normal" font-style="normal" fill="#1e1e1e">5</text>
<line x1="435.50" y1="346.80" x2="435.50" y2="348.80" stroke="#2a2a2a" stroke-width="0.9"/>
<text x="435.50" y="357.05" font-size="6.8" text-anchor="middle" font-weight="normal" font-style="normal" fill="#1e1e1e">10</text>
<line x1="458.20" y1="346.80" x2="458.20" y2="348.80" stroke="#2a2a2a" stroke-width="0.9"/>
<text x="458.20" y="357.05" font-size="6.8" text-anchor="middle" font-weight="normal" font-style="normal" fill="#1e1e1e">15</text>
<line x1="480.90" y1="346.80" x2="480.90" y2="348.80" stroke="#2a2a2a" stroke-width="0.9"/>
<text x="480.90" y="357.05" font-size="6.8" text-anchor="middle" font-weight="normal" font-style="normal" fill="#1e1e1e">20</text>
<line x1="503.60" y1="346.80" x2="503.60" y2="348.80" stroke="#2a2a2a" stroke-width="0.9"/>
<text x="503.60" y="357.05" font-size="6.8" text-anchor="middle" font-weight="normal" font-style="normal" fill="#1e1e1e">25</text>
<text x="370.20" y="305.20" font-size="7.15" text-anchor="middle" fill="#1e1e1e" transform="rotate(-90 370.20 305.20)" dominant-baseline="central">Percent survival</text>
<text x="446.60" y="366.30" font-size="7" text-anchor="middle" font-weight="normal" font-style="normal" fill="#1e1e1e">Days post inoculation</text>
<polyline points="462.74,264.20 499.97,264.20" fill="none" stroke="#e2404c" stroke-width="1.05" stroke-linejoin="round"/>
<line x1="499.97" y1="262.70" x2="499.97" y2="265.20" stroke="#e0232c" stroke-width="0.9"/>
<polyline points="390.10,264.20 462.74,264.20 462.74,297.24 467.28,297.24 467.28,346.80" fill="none" stroke="#3a4299" stroke-width="1.05" stroke-linejoin="round"/>
<line x1="503.90" y1="272.30" x2="503.90" y2="334.60" stroke="#e0232c" stroke-width="0.9"/>
<path d="M506.60,296.30L510.20,296.30M507.50,294.74L509.30,297.86M509.30,294.74L507.50,297.86" stroke="#222" stroke-width="1.1" fill="none"/>
<path d="M506.60,301.40L510.20,301.40M507.50,299.84L509.30,302.96M509.30,299.84L507.50,302.96" stroke="#222" stroke-width="1.1" fill="none"/>
<path d="M506.60,306.50L510.20,306.50M507.50,304.94L509.30,308.06M509.30,304.94L507.50,308.06" stroke="#222" stroke-width="1.1" fill="none"/>
<text x="0.20" y="385.40" font-size="12.5" text-anchor="start" font-weight="bold" font-style="normal" fill="#111" style="stroke:#111;stroke-width:0.15px">G</text>
<text x="73.60" y="387.00" font-size="7" text-anchor="start" font-weight="normal" font-style="normal" fill="#1e1e1e">HDAC1</text>
<text x="59.10" y="415.10" font-size="7.2" text-anchor="start" font-weight="normal" font-style="normal" fill="#1e1e1e">HR = 0.6768 (0.5649–0.8107)</text>
<text x="59.10" y="427.20" font-size="7.2" text-anchor="start" font-weight="normal" font-style="normal" fill="#1e1e1e">log-rank <tspan font-style="italic">P</tspan> = 0.000017</text>
<line x1="35.20" y1="492.10" x2="35.20" y2="392.90" stroke="#2a2a2a" stroke-width="1.1"/>
<line x1="32.90" y1="492.10" x2="35.20" y2="492.10" stroke="#2a2a2a" stroke-width="0.9"/>
<text x="31.60" y="494.55" font-size="6.8" text-anchor="end" font-weight="normal" font-style="normal" fill="#1e1e1e">0</text>
<line x1="32.90" y1="472.26" x2="35.20" y2="472.26" stroke="#2a2a2a" stroke-width="0.9"/>
<text x="31.60" y="474.71" font-size="6.8" text-anchor="end" font-weight="normal" font-style="normal" fill="#1e1e1e">20</text>
<line x1="32.90" y1="452.42" x2="35.20" y2="452.42" stroke="#2a2a2a" stroke-width="0.9"/>
<text x="31.60" y="454.87" font-size="6.8" text-anchor="end" font-weight="normal" font-style="normal" fill="#1e1e1e">40</text>
<line x1="32.90" y1="432.58" x2="35.20" y2="432.58" stroke="#2a2a2a" stroke-width="0.9"/>
<text x="31.60" y="435.03" font-size="6.8" text-anchor="end" font-weight="normal" font-style="normal" fill="#1e1e1e">60</text>
<line x1="32.90" y1="412.74" x2="35.20" y2="412.74" stroke="#2a2a2a" stroke-width="0.9"/>
<text x="31.60" y="415.19" font-size="6.8" text-anchor="end" font-weight="normal" font-style="normal" fill="#1e1e1e">80</text>
<line x1="32.90" y1="392.90" x2="35.20" y2="392.90" stroke="#2a2a2a" stroke-width="0.9"/>
<text x="31.60" y="395.35" font-size="6.8" text-anchor="end" font-weight="normal" font-style="normal" fill="#1e1e1e">100</text>
<line x1="35.20" y1="492.10" x2="145.15" y2="492.10" stroke="#2a2a2a" stroke-width="1.1"/>
<line x1="35.20" y1="492.10" x2="35.20" y2="494.10" stroke="#2a2a2a" stroke-width="0.9"/>
<text x="35.20" y="502.05" font-size="6.8" text-anchor="middle" font-weight="normal" font-style="normal" fill="#1e1e1e">0</text>
<line x1="57.19" y1="492.10" x2="57.19" y2="494.10" stroke="#2a2a2a" stroke-width="0.9"/>
<text x="57.19" y="502.05" font-size="6.8" text-anchor="middle" font-weight="normal" font-style="normal" fill="#1e1e1e">30</text>
<line x1="79.18" y1="492.10" x2="79.18" y2="494.10" stroke="#2a2a2a" stroke-width="0.9"/>
<text x="79.18" y="502.05" font-size="6.8" text-anchor="middle" font-weight="normal" font-style="normal" fill="#1e1e1e">60</text>
<line x1="101.17" y1="492.10" x2="101.17" y2="494.10" stroke="#2a2a2a" stroke-width="0.9"/>
<text x="101.17" y="502.05" font-size="6.8" text-anchor="middle" font-weight="normal" font-style="normal" fill="#1e1e1e">90</text>
<line x1="123.16" y1="492.10" x2="123.16" y2="494.10" stroke="#2a2a2a" stroke-width="0.9"/>
<text x="123.16" y="502.05" font-size="6.8" text-anchor="middle" font-weight="normal" font-style="normal" fill="#1e1e1e">120</text>
<line x1="145.15" y1="492.10" x2="145.15" y2="494.10" stroke="#2a2a2a" stroke-width="0.9"/>
<text x="145.15" y="502.05" font-size="6.8" text-anchor="middle" font-weight="normal" font-style="normal" fill="#1e1e1e">150</text>
<text x="12.60" y="441.70" font-size="7.15" text-anchor="middle" fill="#1e1e1e" transform="rotate(-90 12.60 441.70)" dominant-baseline="central">Percent survival</text>
<text x="88.75" y="513.50" font-size="7" text-anchor="middle" font-weight="normal" font-style="normal" fill="#1e1e1e">Time (months)</text>
<polyline points="35.50,392.50 36.50,396.00 37.50,400.00 39.00,406.00 40.70,412.60 42.80,419.00 45.10,425.20 47.50,431.00 50.10,436.50 53.00,442.00 56.40,447.80 60.20,451.60 67.70,455.30 75.00,457.20 79.60,458.60 90.40,460.00 105.80,463.50 110.40,466.20 121.20,468.20 126.50,470.00 145.80,470.00" fill="none" stroke="#232a78" stroke-width="1.45" stroke-linejoin="round"/>
<polyline points="35.50,392.50 37.00,393.50 39.00,396.50 40.50,400.00 42.50,406.00 44.40,412.60 46.50,417.50 48.80,422.60 52.00,428.00 55.10,432.70 60.20,437.70 66.40,440.90 75.00,443.40 79.90,444.70 90.40,445.60 99.60,448.30 126.50,448.50 126.50,463.10 142.70,463.10" fill="none" stroke="#e0232c" stroke-width="1.45" stroke-linejoin="round"/>
<line x1="82.30" y1="457.35" x2="82.30" y2="458.95" stroke="#232a78" stroke-width="0.75"/>
<line x1="85.00" y1="457.70" x2="85.00" y2="459.30" stroke="#232a78" stroke-width="0.75"/>
<line x1="87.70" y1="458.05" x2="87.70" y2="459.65" stroke="#232a78" stroke-width="0.75"/>
<line x1="93.48" y1="459.10" x2="93.48" y2="460.70" stroke="#232a78" stroke-width="0.75"/>
<line x1="96.56" y1="459.80" x2="96.56" y2="461.40" stroke="#232a78" stroke-width="0.75"/>
<line x1="99.64" y1="460.50" x2="99.64" y2="462.10" stroke="#232a78" stroke-width="0.75"/>
<line x1="102.72" y1="461.20" x2="102.72" y2="462.80" stroke="#232a78" stroke-width="0.75"/>
<line x1="108.10" y1="463.25" x2="108.10" y2="464.85" stroke="#232a78" stroke-width="0.75"/>
<line x1="113.10" y1="465.10" x2="113.10" y2="466.70" stroke="#232a78" stroke-width="0.75"/>
<line x1="115.80" y1="465.60" x2="115.80" y2="467.20" stroke="#232a78" stroke-width="0.75"/>
<line x1="118.50" y1="466.10" x2="118.50" y2="467.70" stroke="#232a78" stroke-width="0.75"/>
<line x1="123.85" y1="467.50" x2="123.85" y2="469.10" stroke="#232a78" stroke-width="0.75"/>
<line x1="129.72" y1="468.40" x2="129.72" y2="470.00" stroke="#232a78" stroke-width="0.75"/>
<line x1="132.93" y1="468.40" x2="132.93" y2="470.00" stroke="#232a78" stroke-width="0.75"/>
<line x1="136.15" y1="468.40" x2="136.15" y2="470.00" stroke="#232a78" stroke-width="0.75"/>
<line x1="139.37" y1="468.40" x2="139.37" y2="470.00" stroke="#232a78" stroke-width="0.75"/>
<line x1="142.58" y1="468.40" x2="142.58" y2="470.00" stroke="#232a78" stroke-width="0.75"/>
<line x1="82.53" y1="443.32" x2="82.53" y2="444.93" stroke="#e0232c" stroke-width="0.75"/>
<line x1="85.15" y1="443.55" x2="85.15" y2="445.15" stroke="#e0232c" stroke-width="0.75"/>
<line x1="87.78" y1="443.77" x2="87.78" y2="445.38" stroke="#e0232c" stroke-width="0.75"/>
<line x1="93.47" y1="444.90" x2="93.47" y2="446.50" stroke="#e0232c" stroke-width="0.75"/>
<line x1="96.53" y1="445.80" x2="96.53" y2="447.40" stroke="#e0232c" stroke-width="0.75"/>
<line x1="102.96" y1="446.72" x2="102.96" y2="448.32" stroke="#e0232c" stroke-width="0.75"/>
<line x1="106.32" y1="446.75" x2="106.32" y2="448.35" stroke="#e0232c" stroke-width="0.75"/>
<line x1="109.69" y1="446.77" x2="109.69" y2="448.38" stroke="#e0232c" stroke-width="0.75"/>
<line x1="113.05" y1="446.80" x2="113.05" y2="448.40" stroke="#e0232c" stroke-width="0.75"/>
<line x1="116.41" y1="446.82" x2="116.41" y2="448.43" stroke="#e0232c" stroke-width="0.75"/>
<line x1="119.78" y1="446.85" x2="119.78" y2="448.45" stroke="#e0232c" stroke-width="0.75"/>
<line x1="123.14" y1="446.88" x2="123.14" y2="448.48" stroke="#e0232c" stroke-width="0.75"/>
<line x1="129.74" y1="461.50" x2="129.74" y2="463.10" stroke="#e0232c" stroke-width="0.75"/>
<line x1="132.98" y1="461.50" x2="132.98" y2="463.10" stroke="#e0232c" stroke-width="0.75"/>
<line x1="136.22" y1="461.50" x2="136.22" y2="463.10" stroke="#e0232c" stroke-width="0.75"/>
<line x1="139.46" y1="461.50" x2="139.46" y2="463.10" stroke="#e0232c" stroke-width="0.75"/>
<line x1="39.40" y1="470.40" x2="49.40" y2="470.40" stroke="#e0232c" stroke-width="1.1"/>
<line x1="44.40" y1="468.90" x2="44.40" y2="470.90" stroke="#e0232c" stroke-width="0.8"/>
<text x="52.40" y="472.30" font-size="7.2" text-anchor="start" font-weight="normal" font-style="normal" fill="#1e1e1e">High (<tspan font-style="italic">n</tspan> = 267)</text>
<line x1="39.40" y1="481.60" x2="49.40" y2="481.60" stroke="#232a78" stroke-width="1.1"/>
<line x1="44.40" y1="480.10" x2="44.40" y2="482.10" stroke="#232a78" stroke-width="0.8"/>
<text x="52.40" y="483.80" font-size="7.2" text-anchor="start" font-weight="normal" font-style="normal" fill="#1e1e1e">Low (<tspan font-style="italic">n</tspan> = 609)</text>
<text x="172.80" y="385.80" font-size="12.5" text-anchor="start" font-weight="bold" font-style="normal" fill="#111" style="stroke:#111;stroke-width:0.15px">H</text>
<text x="257.00" y="387.00" font-size="7" text-anchor="start" font-weight="normal" font-style="normal" fill="#1e1e1e">HDAC2</text>
<text x="238.60" y="415.10" font-size="7.2" text-anchor="start" font-weight="normal" font-style="normal" fill="#1e1e1e">HR = 0.6972 (0.5874–0.8274)</text>
<text x="238.60" y="427.20" font-size="7.2" text-anchor="start" font-weight="normal" font-style="normal" fill="#1e1e1e">log-rank <tspan font-style="italic">P</tspan> = 0.0002</text>
<line x1="217.20" y1="492.30" x2="217.20" y2="392.30" stroke="#2a2a2a" stroke-width="1.1"/>
<line x1="214.90" y1="492.30" x2="217.20" y2="492.30" stroke="#2a2a2a" stroke-width="0.9"/>
<text x="213.60" y="494.75" font-size="6.8" text-anchor="end" font-weight="normal" font-style="normal" fill="#1e1e1e">0</text>
<line x1="214.90" y1="472.30" x2="217.20" y2="472.30" stroke="#2a2a2a" stroke-width="0.9"/>
<text x="213.60" y="474.75" font-size="6.8" text-anchor="end" font-weight="normal" font-style="normal" fill="#1e1e1e">20</text>
<line x1="214.90" y1="452.30" x2="217.20" y2="452.30" stroke="#2a2a2a" stroke-width="0.9"/>
<text x="213.60" y="454.75" font-size="6.8" text-anchor="end" font-weight="normal" font-style="normal" fill="#1e1e1e">40</text>
<line x1="214.90" y1="432.30" x2="217.20" y2="432.30" stroke="#2a2a2a" stroke-width="0.9"/>
<text x="213.60" y="434.75" font-size="6.8" text-anchor="end" font-weight="normal" font-style="normal" fill="#1e1e1e">60</text>
<line x1="214.90" y1="412.30" x2="217.20" y2="412.30" stroke="#2a2a2a" stroke-width="0.9"/>
<text x="213.60" y="414.75" font-size="6.8" text-anchor="end" font-weight="normal" font-style="normal" fill="#1e1e1e">80</text>
<line x1="214.90" y1="392.30" x2="217.20" y2="392.30" stroke="#2a2a2a" stroke-width="0.9"/>
<text x="213.60" y="394.75" font-size="6.8" text-anchor="end" font-weight="normal" font-style="normal" fill="#1e1e1e">100</text>
<line x1="217.20" y1="492.30" x2="332.25" y2="492.30" stroke="#2a2a2a" stroke-width="1.1"/>
<line x1="217.20" y1="492.30" x2="217.20" y2="494.30" stroke="#2a2a2a" stroke-width="0.9"/>
<text x="217.20" y="502.05" font-size="6.8" text-anchor="middle" font-weight="normal" font-style="normal" fill="#1e1e1e">0</text>
<line x1="240.21" y1="492.30" x2="240.21" y2="494.30" stroke="#2a2a2a" stroke-width="0.9"/>
<text x="240.21" y="502.05" font-size="6.8" text-anchor="middle" font-weight="normal" font-style="normal" fill="#1e1e1e">30</text>
<line x1="263.22" y1="492.30" x2="263.22" y2="494.30" stroke="#2a2a2a" stroke-width="0.9"/>
<text x="263.22" y="502.05" font-size="6.8" text-anchor="middle" font-weight="normal" font-style="normal" fill="#1e1e1e">60</text>
<line x1="286.23" y1="492.30" x2="286.23" y2="494.30" stroke="#2a2a2a" stroke-width="0.9"/>
<text x="286.23" y="502.05" font-size="6.8" text-anchor="middle" font-weight="normal" font-style="normal" fill="#1e1e1e">90</text>
<line x1="309.24" y1="492.30" x2="309.24" y2="494.30" stroke="#2a2a2a" stroke-width="0.9"/>
<text x="309.24" y="502.05" font-size="6.8" text-anchor="middle" font-weight="normal" font-style="normal" fill="#1e1e1e">120</text>
<line x1="332.25" y1="492.30" x2="332.25" y2="494.30" stroke="#2a2a2a" stroke-width="0.9"/>
<text x="332.25" y="502.05" font-size="6.8" text-anchor="middle" font-weight="normal" font-style="normal" fill="#1e1e1e">150</text>
<text x="196.00" y="441.00" font-size="7.15" text-anchor="middle" fill="#1e1e1e" transform="rotate(-90 196.00 441.00)" dominant-baseline="central">Percent survival</text>
<text x="275.80" y="513.10" font-size="7" text-anchor="middle" font-weight="normal" font-style="normal" fill="#1e1e1e">Time (months)</text>
<polyline points="217.50,392.00 219.00,396.00 220.80,400.00 222.30,406.00 223.90,412.60 225.80,419.00 227.70,425.20 230.50,431.00 233.40,436.50 236.00,441.50 238.40,446.50 240.30,449.70 245.90,454.10 253.50,458.50 257.00,460.00 262.00,461.00 270.40,462.30 285.80,466.20 295.00,469.20 304.20,470.80 331.20,470.80" fill="none" stroke="#232a78" stroke-width="1.45" stroke-linejoin="round"/>
<polyline points="217.50,392.00 219.00,393.50 220.50,396.00 221.40,400.00 223.50,406.00 225.80,412.60 228.30,419.00 230.80,425.20 233.30,430.00 235.90,434.00 240.90,438.40 248.40,442.10 257.00,444.70 262.00,446.20 270.40,447.20 288.80,452.30 311.90,452.30 311.90,464.20 328.50,464.20" fill="none" stroke="#e0232c" stroke-width="1.45" stroke-linejoin="round"/>
<line x1="264.80" y1="459.83" x2="264.80" y2="461.43" stroke="#232a78" stroke-width="0.75"/>
<line x1="267.60" y1="460.27" x2="267.60" y2="461.87" stroke="#232a78" stroke-width="0.75"/>
<line x1="273.48" y1="461.48" x2="273.48" y2="463.08" stroke="#232a78" stroke-width="0.75"/>
<line x1="276.56" y1="462.26" x2="276.56" y2="463.86" stroke="#232a78" stroke-width="0.75"/>
<line x1="279.64" y1="463.04" x2="279.64" y2="464.64" stroke="#232a78" stroke-width="0.75"/>
<line x1="282.72" y1="463.82" x2="282.72" y2="465.42" stroke="#232a78" stroke-width="0.75"/>
<line x1="288.87" y1="465.60" x2="288.87" y2="467.20" stroke="#232a78" stroke-width="0.75"/>
<line x1="291.93" y1="466.60" x2="291.93" y2="468.20" stroke="#232a78" stroke-width="0.75"/>
<line x1="298.07" y1="468.13" x2="298.07" y2="469.73" stroke="#232a78" stroke-width="0.75"/>
<line x1="301.13" y1="468.67" x2="301.13" y2="470.27" stroke="#232a78" stroke-width="0.75"/>
<line x1="307.57" y1="469.20" x2="307.57" y2="470.80" stroke="#232a78" stroke-width="0.75"/>
<line x1="310.95" y1="469.20" x2="310.95" y2="470.80" stroke="#232a78" stroke-width="0.75"/>
<line x1="314.32" y1="469.20" x2="314.32" y2="470.80" stroke="#232a78" stroke-width="0.75"/>
<line x1="317.70" y1="469.20" x2="317.70" y2="470.80" stroke="#232a78" stroke-width="0.75"/>
<line x1="321.07" y1="469.20" x2="321.07" y2="470.80" stroke="#232a78" stroke-width="0.75"/>
<line x1="324.45" y1="469.20" x2="324.45" y2="470.80" stroke="#232a78" stroke-width="0.75"/>
<line x1="327.82" y1="469.20" x2="327.82" y2="470.80" stroke="#232a78" stroke-width="0.75"/>
<line x1="264.80" y1="444.93" x2="264.80" y2="446.53" stroke="#e0232c" stroke-width="0.75"/>
<line x1="267.60" y1="445.27" x2="267.60" y2="446.87" stroke="#e0232c" stroke-width="0.75"/>
<line x1="273.47" y1="446.45" x2="273.47" y2="448.05" stroke="#e0232c" stroke-width="0.75"/>
<line x1="276.53" y1="447.30" x2="276.53" y2="448.90" stroke="#e0232c" stroke-width="0.75"/>
<line x1="279.60" y1="448.15" x2="279.60" y2="449.75" stroke="#e0232c" stroke-width="0.75"/>
<line x1="282.67" y1="449.00" x2="282.67" y2="450.60" stroke="#e0232c" stroke-width="0.75"/>
<line x1="285.73" y1="449.85" x2="285.73" y2="451.45" stroke="#e0232c" stroke-width="0.75"/>
<line x1="292.10" y1="450.70" x2="292.10" y2="452.30" stroke="#e0232c" stroke-width="0.75"/>
<line x1="295.40" y1="450.70" x2="295.40" y2="452.30" stroke="#e0232c" stroke-width="0.75"/>
<line x1="298.70" y1="450.70" x2="298.70" y2="452.30" stroke="#e0232c" stroke-width="0.75"/>
<line x1="302.00" y1="450.70" x2="302.00" y2="452.30" stroke="#e0232c" stroke-width="0.75"/>
<line x1="305.30" y1="450.70" x2="305.30" y2="452.30" stroke="#e0232c" stroke-width="0.75"/>
<line x1="308.60" y1="450.70" x2="308.60" y2="452.30" stroke="#e0232c" stroke-width="0.75"/>
<line x1="315.22" y1="462.60" x2="315.22" y2="464.20" stroke="#e0232c" stroke-width="0.75"/>
<line x1="318.54" y1="462.60" x2="318.54" y2="464.20" stroke="#e0232c" stroke-width="0.75"/>
<line x1="321.86" y1="462.60" x2="321.86" y2="464.20" stroke="#e0232c" stroke-width="0.75"/>
<line x1="325.18" y1="462.60" x2="325.18" y2="464.20" stroke="#e0232c" stroke-width="0.75"/>
<line x1="224.60" y1="472.00" x2="234.60" y2="472.00" stroke="#e0232c" stroke-width="1.1"/>
<line x1="229.60" y1="470.50" x2="229.60" y2="472.50" stroke="#e0232c" stroke-width="0.8"/>
<text x="238.20" y="473.90" font-size="7.2" text-anchor="start" font-weight="normal" font-style="normal" fill="#1e1e1e">High (<tspan font-style="italic">n</tspan> = 444)</text>
<line x1="224.60" y1="483.20" x2="234.60" y2="483.20" stroke="#232a78" stroke-width="1.1"/>
<line x1="229.60" y1="481.70" x2="229.60" y2="483.70" stroke="#232a78" stroke-width="0.8"/>
<text x="238.20" y="485.40" font-size="7.2" text-anchor="start" font-weight="normal" font-style="normal" fill="#1e1e1e">Low (<tspan font-style="italic">n</tspan> = 432)</text>
<text x="355.80" y="385.40" font-size="12.5" text-anchor="start" font-weight="bold" font-style="normal" fill="#111" style="stroke:#111;stroke-width:0.15px">I</text>
<text x="430.30" y="387.00" font-size="7" text-anchor="start" font-weight="normal" font-style="normal" fill="#1e1e1e">HDAC3</text>
<text x="419.60" y="415.10" font-size="7.2" text-anchor="start" font-weight="normal" font-style="normal" fill="#1e1e1e">HR = 1.436 (1.207–1.709)</text>
<text x="419.60" y="427.20" font-size="7.2" text-anchor="start" font-weight="normal" font-style="normal" fill="#1e1e1e">log-rank <tspan font-style="italic">P</tspan> = 0.0001</text>
<line x1="396.80" y1="491.20" x2="396.80" y2="390.90" stroke="#2a2a2a" stroke-width="1.1"/>
<line x1="394.50" y1="491.20" x2="396.80" y2="491.20" stroke="#2a2a2a" stroke-width="0.9"/>
<text x="393.20" y="493.65" font-size="6.8" text-anchor="end" font-weight="normal" font-style="normal" fill="#1e1e1e">0</text>
<line x1="394.50" y1="471.14" x2="396.80" y2="471.14" stroke="#2a2a2a" stroke-width="0.9"/>
<text x="393.20" y="473.59" font-size="6.8" text-anchor="end" font-weight="normal" font-style="normal" fill="#1e1e1e">20</text>
<line x1="394.50" y1="451.08" x2="396.80" y2="451.08" stroke="#2a2a2a" stroke-width="0.9"/>
<text x="393.20" y="453.53" font-size="6.8" text-anchor="end" font-weight="normal" font-style="normal" fill="#1e1e1e">40</text>
<line x1="394.50" y1="431.02" x2="396.80" y2="431.02" stroke="#2a2a2a" stroke-width="0.9"/>
<text x="393.20" y="433.47" font-size="6.8" text-anchor="end" font-weight="normal" font-style="normal" fill="#1e1e1e">60</text>
<line x1="394.50" y1="410.96" x2="396.80" y2="410.96" stroke="#2a2a2a" stroke-width="0.9"/>
<text x="393.20" y="413.41" font-size="6.8" text-anchor="end" font-weight="normal" font-style="normal" fill="#1e1e1e">80</text>
<line x1="394.50" y1="390.90" x2="396.80" y2="390.90" stroke="#2a2a2a" stroke-width="0.9"/>
<text x="393.20" y="393.35" font-size="6.8" text-anchor="end" font-weight="normal" font-style="normal" fill="#1e1e1e">100</text>
<line x1="396.80" y1="491.20" x2="510.35" y2="491.20" stroke="#2a2a2a" stroke-width="1.1"/>
<line x1="396.80" y1="491.20" x2="396.80" y2="493.20" stroke="#2a2a2a" stroke-width="0.9"/>
<text x="396.80" y="502.05" font-size="6.8" text-anchor="middle" font-weight="normal" font-style="normal" fill="#1e1e1e">0</text>
<line x1="419.51" y1="491.20" x2="419.51" y2="493.20" stroke="#2a2a2a" stroke-width="0.9"/>
<text x="419.51" y="502.05" font-size="6.8" text-anchor="middle" font-weight="normal" font-style="normal" fill="#1e1e1e">30</text>
<line x1="442.22" y1="491.20" x2="442.22" y2="493.20" stroke="#2a2a2a" stroke-width="0.9"/>
<text x="442.22" y="502.05" font-size="6.8" text-anchor="middle" font-weight="normal" font-style="normal" fill="#1e1e1e">60</text>
<line x1="464.93" y1="491.20" x2="464.93" y2="493.20" stroke="#2a2a2a" stroke-width="0.9"/>
<text x="464.93" y="502.05" font-size="6.8" text-anchor="middle" font-weight="normal" font-style="normal" fill="#1e1e1e">90</text>
<line x1="487.64" y1="491.20" x2="487.64" y2="493.20" stroke="#2a2a2a" stroke-width="0.9"/>
<text x="487.64" y="502.05" font-size="6.8" text-anchor="middle" font-weight="normal" font-style="normal" fill="#1e1e1e">120</text>
<line x1="510.35" y1="491.20" x2="510.35" y2="493.20" stroke="#2a2a2a" stroke-width="0.9"/>
<text x="510.35" y="502.05" font-size="6.8" text-anchor="middle" font-weight="normal" font-style="normal" fill="#1e1e1e">150</text>
<text x="372.10" y="439.80" font-size="7.15" text-anchor="middle" fill="#1e1e1e" transform="rotate(-90 372.10 439.80)" dominant-baseline="central">Percent survival</text>
<text x="455.40" y="513.10" font-size="7" text-anchor="middle" font-weight="normal" font-style="normal" fill="#1e1e1e">Time (months)</text>
<polyline points="397.00,391.00 399.00,396.00 400.40,400.00 402.20,406.00 404.20,412.60 407.00,419.00 409.80,425.20 413.50,431.00 418.00,436.50 424.90,441.50 432.50,444.70 436.00,445.80 440.90,447.00 450.40,448.50 465.80,451.50 475.00,455.40 484.20,457.40 489.60,457.50 489.60,461.10 510.40,461.10" fill="none" stroke="#232a78" stroke-width="1.45" stroke-linejoin="round"/>
<polyline points="397.00,391.00 399.00,395.00 400.40,400.00 402.00,406.00 403.50,412.60 405.00,419.00 406.70,425.20 409.00,431.00 411.70,436.50 414.00,441.00 416.80,445.30 419.30,450.90 424.90,455.30 432.50,458.50 436.00,459.20 440.90,459.40 450.40,461.50 461.20,463.80 481.90,463.80 481.90,466.90 489.60,466.90 489.60,470.30 507.30,470.30" fill="none" stroke="#e0232c" stroke-width="1.45" stroke-linejoin="round"/>
<line x1="444.07" y1="445.90" x2="444.07" y2="447.50" stroke="#232a78" stroke-width="0.75"/>
<line x1="447.23" y1="446.40" x2="447.23" y2="448.00" stroke="#232a78" stroke-width="0.75"/>
<line x1="453.48" y1="447.50" x2="453.48" y2="449.10" stroke="#232a78" stroke-width="0.75"/>
<line x1="456.56" y1="448.10" x2="456.56" y2="449.70" stroke="#232a78" stroke-width="0.75"/>
<line x1="459.64" y1="448.70" x2="459.64" y2="450.30" stroke="#232a78" stroke-width="0.75"/>
<line x1="462.72" y1="449.30" x2="462.72" y2="450.90" stroke="#232a78" stroke-width="0.75"/>
<line x1="468.87" y1="451.20" x2="468.87" y2="452.80" stroke="#232a78" stroke-width="0.75"/>
<line x1="471.93" y1="452.50" x2="471.93" y2="454.10" stroke="#232a78" stroke-width="0.75"/>
<line x1="478.07" y1="454.47" x2="478.07" y2="456.07" stroke="#232a78" stroke-width="0.75"/>
<line x1="481.13" y1="455.13" x2="481.13" y2="456.73" stroke="#232a78" stroke-width="0.75"/>
<line x1="486.90" y1="455.85" x2="486.90" y2="457.45" stroke="#232a78" stroke-width="0.75"/>
<line x1="493.07" y1="459.50" x2="493.07" y2="461.10" stroke="#232a78" stroke-width="0.75"/>
<line x1="496.53" y1="459.50" x2="496.53" y2="461.10" stroke="#232a78" stroke-width="0.75"/>
<line x1="500.00" y1="459.50" x2="500.00" y2="461.10" stroke="#232a78" stroke-width="0.75"/>
<line x1="503.47" y1="459.50" x2="503.47" y2="461.10" stroke="#232a78" stroke-width="0.75"/>
<line x1="506.93" y1="459.50" x2="506.93" y2="461.10" stroke="#232a78" stroke-width="0.75"/>
<line x1="444.07" y1="458.50" x2="444.07" y2="460.10" stroke="#e0232c" stroke-width="0.75"/>
<line x1="447.23" y1="459.20" x2="447.23" y2="460.80" stroke="#e0232c" stroke-width="0.75"/>
<line x1="453.10" y1="460.47" x2="453.10" y2="462.07" stroke="#e0232c" stroke-width="0.75"/>
<line x1="455.80" y1="461.05" x2="455.80" y2="462.65" stroke="#e0232c" stroke-width="0.75"/>
<line x1="458.50" y1="461.62" x2="458.50" y2="463.23" stroke="#e0232c" stroke-width="0.75"/>
<line x1="464.65" y1="462.20" x2="464.65" y2="463.80" stroke="#e0232c" stroke-width="0.75"/>
<line x1="468.10" y1="462.20" x2="468.10" y2="463.80" stroke="#e0232c" stroke-width="0.75"/>
<line x1="471.55" y1="462.20" x2="471.55" y2="463.80" stroke="#e0232c" stroke-width="0.75"/>
<line x1="475.00" y1="462.20" x2="475.00" y2="463.80" stroke="#e0232c" stroke-width="0.75"/>
<line x1="478.45" y1="462.20" x2="478.45" y2="463.80" stroke="#e0232c" stroke-width="0.75"/>
<line x1="484.47" y1="465.30" x2="484.47" y2="466.90" stroke="#e0232c" stroke-width="0.75"/>
<line x1="487.03" y1="465.30" x2="487.03" y2="466.90" stroke="#e0232c" stroke-width="0.75"/>
<line x1="492.55" y1="468.70" x2="492.55" y2="470.30" stroke="#e0232c" stroke-width="0.75"/>
<line x1="495.50" y1="468.70" x2="495.50" y2="470.30" stroke="#e0232c" stroke-width="0.75"/>
<line x1="498.45" y1="468.70" x2="498.45" y2="470.30" stroke="#e0232c" stroke-width="0.75"/>
<line x1="501.40" y1="468.70" x2="501.40" y2="470.30" stroke="#e0232c" stroke-width="0.75"/>
<line x1="504.35" y1="468.70" x2="504.35" y2="470.30" stroke="#e0232c" stroke-width="0.75"/>
<line x1="403.80" y1="469.50" x2="413.80" y2="469.50" stroke="#e0232c" stroke-width="1.1"/>
<line x1="408.80" y1="468.00" x2="408.80" y2="470.00" stroke="#e0232c" stroke-width="0.8"/>
<text x="416.90" y="471.40" font-size="7.2" text-anchor="start" font-weight="normal" font-style="normal" fill="#1e1e1e">High (<tspan font-style="italic">n</tspan> = 375)</text>
<line x1="403.80" y1="480.70" x2="413.80" y2="480.70" stroke="#232a78" stroke-width="1.1"/>
<line x1="408.80" y1="479.20" x2="408.80" y2="481.20" stroke="#232a78" stroke-width="0.8"/>
<text x="416.90" y="482.90" font-size="7.2" text-anchor="start" font-weight="normal" font-style="normal" fill="#1e1e1e">Low (<tspan font-style="italic">n</tspan> = 501)</text>
</svg></body></html>
